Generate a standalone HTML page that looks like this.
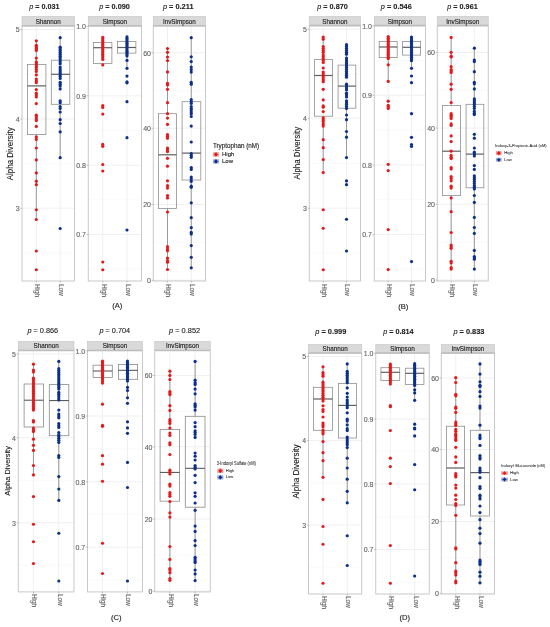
<!DOCTYPE html>
<html><head><meta charset="utf-8"><style>
html,body{margin:0;padding:0;background:#fff;}
svg{display:block;filter:blur(0.3px);font-family:"Liberation Sans",sans-serif;}
text{stroke-width:0.12px;}
</style></head><body>
<svg width="550" height="627" viewBox="0 0 550 627">
<rect width="550" height="627" fill="#fff"/>
<text x="44.3" y="8.9" font-size="8.1" text-anchor="middle" font-weight="bold" fill="#222" stroke="#222" textLength="30.2" lengthAdjust="spacingAndGlyphs"><tspan font-style="italic" font-weight="normal">p</tspan> = 0.031</text>
<text x="114.5" y="8.9" font-size="8.1" text-anchor="middle" font-weight="bold" fill="#222" stroke="#222" textLength="30.5" lengthAdjust="spacingAndGlyphs"><tspan font-style="italic" font-weight="normal">p</tspan> = 0.090</text>
<text x="178.2" y="8.9" font-size="8.1" text-anchor="middle" font-weight="bold" fill="#222" stroke="#222" textLength="30.6" lengthAdjust="spacingAndGlyphs"><tspan font-style="italic" font-weight="normal">p</tspan> = 0.211</text>
<rect x="22" y="26" width="52.50" height="255.00" fill="#fff"/>
<line x1="22" x2="74.5" y1="74.19" y2="74.19" stroke="#f6f6f6" stroke-width="0.6"/>
<line x1="22" x2="74.5" y1="163.56" y2="163.56" stroke="#f6f6f6" stroke-width="0.6"/>
<line x1="22" x2="74.5" y1="252.94" y2="252.94" stroke="#f6f6f6" stroke-width="0.6"/>
<line x1="22" x2="74.5" y1="29.5" y2="29.5" stroke="#eeeeee" stroke-width="0.9"/>
<line x1="22" x2="74.5" y1="119" y2="119" stroke="#eeeeee" stroke-width="0.9"/>
<line x1="22" x2="74.5" y1="208.25" y2="208.25" stroke="#eeeeee" stroke-width="0.9"/>
<line x1="36.32" x2="36.32" y1="26" y2="281" stroke="#eeeeee" stroke-width="0.9"/>
<line x1="60.18" x2="60.18" y1="26" y2="281" stroke="#eeeeee" stroke-width="0.9"/>
<line x1="36.32" x2="36.32" y1="40.8" y2="64.4" stroke="#8f8f8f" stroke-width="0.9"/>
<line x1="36.32" x2="36.32" y1="134.6" y2="219.5" stroke="#8f8f8f" stroke-width="0.9"/>
<rect x="27.4" y="64.4" width="18.50" height="70.20" fill="none" stroke="#8f8f8f" stroke-width="0.8"/>
<line x1="27.4" x2="45.9" y1="85.9" y2="85.9" stroke="#5f5f5f" stroke-width="1.2"/>
<line x1="60.18" x2="60.18" y1="37.7" y2="60.2" stroke="#8f8f8f" stroke-width="0.9"/>
<line x1="60.18" x2="60.18" y1="104.3" y2="157.7" stroke="#8f8f8f" stroke-width="0.9"/>
<rect x="51.3" y="60.2" width="18.50" height="44.10" fill="none" stroke="#8f8f8f" stroke-width="0.8"/>
<line x1="51.3" x2="69.8" y1="74.3" y2="74.3" stroke="#5f5f5f" stroke-width="1.2"/>
<g fill="#e31a1c"><circle cx="36.32" cy="40.8" r="1.6"/><circle cx="36.32" cy="45.3" r="1.6"/><circle cx="36.32" cy="46.6" r="1.6"/><circle cx="36.32" cy="47.9" r="1.6"/><circle cx="36.32" cy="49.1" r="1.6"/><circle cx="36.32" cy="50.4" r="1.6"/><circle cx="36.32" cy="58.1" r="1.6"/><circle cx="36.32" cy="61.9" r="1.6"/><circle cx="36.32" cy="63.8" r="1.6"/><circle cx="36.32" cy="65.7" r="1.6"/><circle cx="36.32" cy="67.6" r="1.6"/><circle cx="36.32" cy="69.6" r="1.6"/><circle cx="36.32" cy="71.5" r="1.6"/><circle cx="36.32" cy="74.9" r="1.6"/><circle cx="36.32" cy="79.1" r="1.6"/><circle cx="36.32" cy="81" r="1.6"/><circle cx="36.32" cy="82.6" r="1.6"/><circle cx="36.32" cy="89.6" r="1.6"/><circle cx="36.32" cy="93.2" r="1.6"/><circle cx="36.32" cy="95.1" r="1.6"/><circle cx="36.32" cy="97" r="1.6"/><circle cx="36.32" cy="103.6" r="1.6"/><circle cx="36.32" cy="115.2" r="1.6"/><circle cx="36.32" cy="117.1" r="1.6"/><circle cx="36.32" cy="119" r="1.6"/><circle cx="36.32" cy="120.6" r="1.6"/><circle cx="36.32" cy="126.4" r="1.6"/><circle cx="36.32" cy="136.9" r="1.6"/><circle cx="36.32" cy="139.4" r="1.6"/><circle cx="36.32" cy="148" r="1.6"/><circle cx="36.32" cy="159.9" r="1.6"/><circle cx="36.32" cy="172.9" r="1.6"/><circle cx="36.32" cy="181.2" r="1.6"/><circle cx="36.32" cy="184.7" r="1.6"/><circle cx="36.32" cy="209.75" r="1.6"/><circle cx="36.32" cy="219.5" r="1.6"/><circle cx="36.32" cy="251" r="1.6"/><circle cx="36.32" cy="269.75" r="1.6"/></g>
<g fill="#0b2f8c"><circle cx="60.18" cy="37.7" r="1.6"/><circle cx="60.18" cy="47.2" r="1.6"/><circle cx="60.18" cy="48.9" r="1.6"/><circle cx="60.18" cy="50.4" r="1.6"/><circle cx="60.18" cy="52.3" r="1.6"/><circle cx="60.18" cy="54.2" r="1.6"/><circle cx="60.18" cy="56.2" r="1.6"/><circle cx="60.18" cy="58.1" r="1.6"/><circle cx="60.18" cy="60" r="1.6"/><circle cx="60.18" cy="61.9" r="1.6"/><circle cx="60.18" cy="63.8" r="1.6"/><circle cx="60.18" cy="67" r="1.6"/><circle cx="60.18" cy="68.9" r="1.6"/><circle cx="60.18" cy="70.8" r="1.6"/><circle cx="60.18" cy="72.7" r="1.6"/><circle cx="60.18" cy="74.7" r="1.6"/><circle cx="60.18" cy="76.6" r="1.6"/><circle cx="60.18" cy="78.5" r="1.6"/><circle cx="60.18" cy="82.3" r="1.6"/><circle cx="60.18" cy="84.2" r="1.6"/><circle cx="60.18" cy="86.1" r="1.6"/><circle cx="60.18" cy="88.9" r="1.6"/><circle cx="60.18" cy="100.8" r="1.6"/><circle cx="60.18" cy="102.7" r="1.6"/><circle cx="60.18" cy="106.6" r="1.6"/><circle cx="60.18" cy="108.5" r="1.6"/><circle cx="60.18" cy="112" r="1.6"/><circle cx="60.18" cy="119.7" r="1.6"/><circle cx="60.18" cy="123.5" r="1.6"/><circle cx="60.18" cy="131.8" r="1.6"/><circle cx="60.18" cy="157.7" r="1.6"/><circle cx="60.18" cy="228.5" r="1.6"/></g>
<rect x="22" y="26" width="52.50" height="255.00" fill="none" stroke="#c4c4c4" stroke-width="0.9"/>
<rect x="22" y="16.5" width="52.50" height="9.50" fill="#d9d9d9" stroke="#c4c4c4" stroke-width="0.6"/>
<line x1="22" x2="74.5" y1="25.70" y2="25.70" stroke="#bdbdbd" stroke-width="1.3"/>
<text x="48.25" y="24.05" font-size="6.3" text-anchor="middle" fill="#1a1a1a" stroke="#1a1a1a">Shannon</text>
<line x1="20.4" x2="22" y1="29.5" y2="29.5" stroke="#999" stroke-width="0.6"/>
<text x="19.7" y="32.40" font-size="7.0" text-anchor="end" fill="#636363" stroke="#636363">5</text>
<line x1="20.4" x2="22" y1="119" y2="119" stroke="#999" stroke-width="0.6"/>
<text x="19.7" y="121.90" font-size="7.0" text-anchor="end" fill="#636363" stroke="#636363">4</text>
<line x1="20.4" x2="22" y1="208.25" y2="208.25" stroke="#999" stroke-width="0.6"/>
<text x="19.7" y="211.15" font-size="7.0" text-anchor="end" fill="#636363" stroke="#636363">3</text>
<line x1="36.32" x2="36.32" y1="281" y2="282.6" stroke="#999" stroke-width="0.6"/>
<text transform="translate(35.22,284.0) rotate(90)" font-size="6.4" fill="#636363" stroke="#636363">High</text>
<line x1="60.18" x2="60.18" y1="281" y2="282.6" stroke="#999" stroke-width="0.6"/>
<text transform="translate(59.08,284.0) rotate(90)" font-size="6.4" fill="#636363" stroke="#636363">Low</text>
<rect x="88.25" y="26" width="53.25" height="255.00" fill="#fff"/>
<line x1="88.25" x2="141.5" y1="61.00" y2="61.00" stroke="#f6f6f6" stroke-width="0.6"/>
<line x1="88.25" x2="141.5" y1="130.40" y2="130.40" stroke="#f6f6f6" stroke-width="0.6"/>
<line x1="88.25" x2="141.5" y1="199.80" y2="199.80" stroke="#f6f6f6" stroke-width="0.6"/>
<line x1="88.25" x2="141.5" y1="269.20" y2="269.20" stroke="#f6f6f6" stroke-width="0.6"/>
<line x1="88.25" x2="141.5" y1="26.3" y2="26.3" stroke="#eeeeee" stroke-width="0.9"/>
<line x1="88.25" x2="141.5" y1="95.75" y2="95.75" stroke="#eeeeee" stroke-width="0.9"/>
<line x1="88.25" x2="141.5" y1="165.25" y2="165.25" stroke="#eeeeee" stroke-width="0.9"/>
<line x1="88.25" x2="141.5" y1="234.5" y2="234.5" stroke="#eeeeee" stroke-width="0.9"/>
<line x1="102.77" x2="102.77" y1="26" y2="281" stroke="#eeeeee" stroke-width="0.9"/>
<line x1="126.98" x2="126.98" y1="26" y2="281" stroke="#eeeeee" stroke-width="0.9"/>
<line x1="102.77" x2="102.77" y1="37.4" y2="42.5" stroke="#8f8f8f" stroke-width="0.9"/>
<line x1="102.77" x2="102.77" y1="63.4" y2="64.9" stroke="#8f8f8f" stroke-width="0.9"/>
<rect x="93.4" y="42.5" width="18.50" height="20.90" fill="none" stroke="#8f8f8f" stroke-width="0.8"/>
<line x1="93.4" x2="111.9" y1="47.7" y2="47.7" stroke="#5f5f5f" stroke-width="1.2"/>
<line x1="126.98" x2="126.98" y1="36.9" y2="41.5" stroke="#8f8f8f" stroke-width="0.9"/>
<line x1="126.98" x2="126.98" y1="53.1" y2="68.3" stroke="#8f8f8f" stroke-width="0.9"/>
<rect x="117.5" y="41.5" width="18.40" height="11.60" fill="none" stroke="#8f8f8f" stroke-width="0.8"/>
<line x1="117.5" x2="135.9" y1="47.5" y2="47.5" stroke="#5f5f5f" stroke-width="1.2"/>
<g fill="#e31a1c"><circle cx="102.77" cy="37.4" r="1.6"/><circle cx="102.77" cy="39.1" r="1.6"/><circle cx="102.77" cy="40.8" r="1.6"/><circle cx="102.77" cy="42.5" r="1.6"/><circle cx="102.77" cy="44.2" r="1.6"/><circle cx="102.77" cy="45.9" r="1.6"/><circle cx="102.77" cy="47.6" r="1.6"/><circle cx="102.77" cy="49.3" r="1.6"/><circle cx="102.77" cy="51.0" r="1.6"/><circle cx="102.77" cy="52.7" r="1.6"/><circle cx="102.77" cy="54.4" r="1.6"/><circle cx="102.77" cy="56.1" r="1.6"/><circle cx="102.77" cy="57.8" r="1.6"/><circle cx="102.77" cy="59.5" r="1.6"/><circle cx="102.77" cy="64.9" r="1.6"/><circle cx="102.77" cy="105.5" r="1.6"/><circle cx="102.77" cy="107.4" r="1.6"/><circle cx="102.77" cy="114.1" r="1.6"/><circle cx="102.77" cy="144.4" r="1.6"/><circle cx="102.77" cy="146.3" r="1.6"/><circle cx="102.77" cy="164.5" r="1.6"/><circle cx="102.77" cy="171" r="1.6"/><circle cx="102.77" cy="262" r="1.6"/><circle cx="102.77" cy="269.75" r="1.6"/></g>
<g fill="#0b2f8c"><circle cx="126.98" cy="36.9" r="1.6"/><circle cx="126.98" cy="38.49" r="1.6"/><circle cx="126.98" cy="40.08" r="1.6"/><circle cx="126.98" cy="41.67" r="1.6"/><circle cx="126.98" cy="43.27" r="1.6"/><circle cx="126.98" cy="44.86" r="1.6"/><circle cx="126.98" cy="46.45" r="1.6"/><circle cx="126.98" cy="48.04" r="1.6"/><circle cx="126.98" cy="49.63" r="1.6"/><circle cx="126.98" cy="51.23" r="1.6"/><circle cx="126.98" cy="52.82" r="1.6"/><circle cx="126.98" cy="54.41" r="1.6"/><circle cx="126.98" cy="56.0" r="1.6"/><circle cx="126.98" cy="60.4" r="1.6"/><circle cx="126.98" cy="68.3" r="1.6"/><circle cx="126.98" cy="76.1" r="1.6"/><circle cx="126.98" cy="81.9" r="1.6"/><circle cx="126.98" cy="82.8" r="1.6"/><circle cx="126.98" cy="101.7" r="1.6"/><circle cx="126.98" cy="137.7" r="1.6"/><circle cx="126.98" cy="230" r="1.6"/></g>
<rect x="88.25" y="26" width="53.25" height="255.00" fill="none" stroke="#c4c4c4" stroke-width="0.9"/>
<rect x="88.25" y="16.5" width="53.25" height="9.50" fill="#d9d9d9" stroke="#c4c4c4" stroke-width="0.6"/>
<line x1="88.25" x2="141.5" y1="25.70" y2="25.70" stroke="#bdbdbd" stroke-width="1.3"/>
<text x="114.88" y="24.05" font-size="6.3" text-anchor="middle" fill="#1a1a1a" stroke="#1a1a1a">Simpson</text>
<line x1="86.65" x2="88.25" y1="26.3" y2="26.3" stroke="#999" stroke-width="0.6"/>
<text x="85.95" y="29.20" font-size="7.0" text-anchor="end" fill="#636363" stroke="#636363">1.0</text>
<line x1="86.65" x2="88.25" y1="95.75" y2="95.75" stroke="#999" stroke-width="0.6"/>
<text x="85.95" y="98.65" font-size="7.0" text-anchor="end" fill="#636363" stroke="#636363">0.9</text>
<line x1="86.65" x2="88.25" y1="165.25" y2="165.25" stroke="#999" stroke-width="0.6"/>
<text x="85.95" y="168.15" font-size="7.0" text-anchor="end" fill="#636363" stroke="#636363">0.8</text>
<line x1="86.65" x2="88.25" y1="234.5" y2="234.5" stroke="#999" stroke-width="0.6"/>
<text x="85.95" y="237.40" font-size="7.0" text-anchor="end" fill="#636363" stroke="#636363">0.7</text>
<line x1="102.77" x2="102.77" y1="281" y2="282.6" stroke="#999" stroke-width="0.6"/>
<text transform="translate(101.67,284.0) rotate(90)" font-size="6.4" fill="#636363" stroke="#636363">High</text>
<line x1="126.98" x2="126.98" y1="281" y2="282.6" stroke="#999" stroke-width="0.6"/>
<text transform="translate(125.88,284.0) rotate(90)" font-size="6.4" fill="#636363" stroke="#636363">Low</text>
<rect x="153.25" y="26" width="52.25" height="255.00" fill="#fff"/>
<line x1="153.25" x2="205.5" y1="90.67" y2="90.67" stroke="#f6f6f6" stroke-width="0.6"/>
<line x1="153.25" x2="205.5" y1="166.50" y2="166.50" stroke="#f6f6f6" stroke-width="0.6"/>
<line x1="153.25" x2="205.5" y1="242.33" y2="242.33" stroke="#f6f6f6" stroke-width="0.6"/>
<line x1="153.25" x2="205.5" y1="52.75" y2="52.75" stroke="#eeeeee" stroke-width="0.9"/>
<line x1="153.25" x2="205.5" y1="128.25" y2="128.25" stroke="#eeeeee" stroke-width="0.9"/>
<line x1="153.25" x2="205.5" y1="204.5" y2="204.5" stroke="#eeeeee" stroke-width="0.9"/>
<line x1="153.25" x2="205.5" y1="280.25" y2="280.25" stroke="#eeeeee" stroke-width="0.9"/>
<line x1="167.50" x2="167.50" y1="26" y2="281" stroke="#eeeeee" stroke-width="0.9"/>
<line x1="191.25" x2="191.25" y1="26" y2="281" stroke="#eeeeee" stroke-width="0.9"/>
<line x1="167.50" x2="167.50" y1="48.5" y2="113.7" stroke="#8f8f8f" stroke-width="0.9"/>
<line x1="167.50" x2="167.50" y1="208.5" y2="269.5" stroke="#8f8f8f" stroke-width="0.9"/>
<rect x="158.4" y="113.7" width="18.20" height="94.80" fill="none" stroke="#8f8f8f" stroke-width="0.8"/>
<line x1="158.4" x2="176.6" y1="154.8" y2="154.8" stroke="#5f5f5f" stroke-width="1.2"/>
<line x1="191.25" x2="191.25" y1="37.7" y2="101.7" stroke="#8f8f8f" stroke-width="0.9"/>
<line x1="191.25" x2="191.25" y1="180" y2="267.8" stroke="#8f8f8f" stroke-width="0.9"/>
<rect x="182.1" y="101.7" width="18.70" height="78.30" fill="none" stroke="#8f8f8f" stroke-width="0.8"/>
<line x1="182.1" x2="200.8" y1="153.1" y2="153.1" stroke="#5f5f5f" stroke-width="1.2"/>
<g fill="#e31a1c"><circle cx="167.50" cy="48.5" r="1.6"/><circle cx="167.50" cy="52.3" r="1.6"/><circle cx="167.50" cy="57" r="1.6"/><circle cx="167.50" cy="60.6" r="1.6"/><circle cx="167.50" cy="71.9" r="1.6"/><circle cx="167.50" cy="83.3" r="1.6"/><circle cx="167.50" cy="84.9" r="1.6"/><circle cx="167.50" cy="89.3" r="1.6"/><circle cx="167.50" cy="102.7" r="1.6"/><circle cx="167.50" cy="113.7" r="1.6"/><circle cx="167.50" cy="118.1" r="1.6"/><circle cx="167.50" cy="124.4" r="1.6"/><circle cx="167.50" cy="134.6" r="1.6"/><circle cx="167.50" cy="136.3" r="1.6"/><circle cx="167.50" cy="138.2" r="1.6"/><circle cx="167.50" cy="148.1" r="1.6"/><circle cx="167.50" cy="149.9" r="1.6"/><circle cx="167.50" cy="151.6" r="1.6"/><circle cx="167.50" cy="158.3" r="1.6"/><circle cx="167.50" cy="166.2" r="1.6"/><circle cx="167.50" cy="180.8" r="1.6"/><circle cx="167.50" cy="185.7" r="1.6"/><circle cx="167.50" cy="188.1" r="1.6"/><circle cx="167.50" cy="195.5" r="1.6"/><circle cx="167.50" cy="197.9" r="1.6"/><circle cx="167.50" cy="212" r="1.6"/><circle cx="167.50" cy="246.7" r="1.6"/><circle cx="167.50" cy="249.1" r="1.6"/><circle cx="167.50" cy="250.8" r="1.6"/><circle cx="167.50" cy="258.1" r="1.6"/><circle cx="167.50" cy="260.5" r="1.6"/><circle cx="167.50" cy="262.2" r="1.6"/><circle cx="167.50" cy="269.5" r="1.6"/></g>
<g fill="#0b2f8c"><circle cx="191.25" cy="37.7" r="1.6"/><circle cx="191.25" cy="56.8" r="1.6"/><circle cx="191.25" cy="61.6" r="1.6"/><circle cx="191.25" cy="67" r="1.6"/><circle cx="191.25" cy="69.6" r="1.6"/><circle cx="191.25" cy="72.1" r="1.6"/><circle cx="191.25" cy="82.3" r="1.6"/><circle cx="191.25" cy="84.2" r="1.6"/><circle cx="191.25" cy="99.5" r="1.6"/><circle cx="191.25" cy="101.5" r="1.6"/><circle cx="191.25" cy="103.4" r="1.6"/><circle cx="191.25" cy="106.6" r="1.6"/><circle cx="191.25" cy="108.5" r="1.6"/><circle cx="191.25" cy="110.1" r="1.6"/><circle cx="191.25" cy="112" r="1.6"/><circle cx="191.25" cy="113.9" r="1.6"/><circle cx="191.25" cy="116.5" r="1.6"/><circle cx="191.25" cy="126.1" r="1.6"/><circle cx="191.25" cy="142" r="1.6"/><circle cx="191.25" cy="153.5" r="1.6"/><circle cx="191.25" cy="155.4" r="1.6"/><circle cx="191.25" cy="157.3" r="1.6"/><circle cx="191.25" cy="167.5" r="1.6"/><circle cx="191.25" cy="169.4" r="1.6"/><circle cx="191.25" cy="177.1" r="1.6"/><circle cx="191.25" cy="179" r="1.6"/><circle cx="191.25" cy="181.3" r="1.6"/><circle cx="191.25" cy="186.2" r="1.6"/><circle cx="191.25" cy="187.3" r="1.6"/><circle cx="191.25" cy="202.8" r="1.6"/><circle cx="191.25" cy="217.7" r="1.6"/><circle cx="191.25" cy="227.7" r="1.6"/><circle cx="191.25" cy="232.4" r="1.6"/><circle cx="191.25" cy="234" r="1.6"/><circle cx="191.25" cy="245.6" r="1.6"/><circle cx="191.25" cy="257.3" r="1.6"/><circle cx="191.25" cy="267.8" r="1.6"/></g>
<rect x="153.25" y="26" width="52.25" height="255.00" fill="none" stroke="#c4c4c4" stroke-width="0.9"/>
<rect x="153.25" y="16.5" width="52.25" height="9.50" fill="#d9d9d9" stroke="#c4c4c4" stroke-width="0.6"/>
<line x1="153.25" x2="205.5" y1="25.70" y2="25.70" stroke="#bdbdbd" stroke-width="1.3"/>
<text x="179.38" y="24.05" font-size="6.3" text-anchor="middle" fill="#1a1a1a" stroke="#1a1a1a">InvSimpson</text>
<line x1="151.65" x2="153.25" y1="52.75" y2="52.75" stroke="#999" stroke-width="0.6"/>
<text x="150.95" y="55.65" font-size="7.0" text-anchor="end" fill="#636363" stroke="#636363">60</text>
<line x1="151.65" x2="153.25" y1="128.25" y2="128.25" stroke="#999" stroke-width="0.6"/>
<text x="150.95" y="131.15" font-size="7.0" text-anchor="end" fill="#636363" stroke="#636363">40</text>
<line x1="151.65" x2="153.25" y1="204.5" y2="204.5" stroke="#999" stroke-width="0.6"/>
<text x="150.95" y="207.40" font-size="7.0" text-anchor="end" fill="#636363" stroke="#636363">20</text>
<line x1="151.65" x2="153.25" y1="280.25" y2="280.25" stroke="#999" stroke-width="0.6"/>
<text x="150.95" y="283.15" font-size="7.0" text-anchor="end" fill="#636363" stroke="#636363">0</text>
<line x1="167.50" x2="167.50" y1="281" y2="282.6" stroke="#999" stroke-width="0.6"/>
<text transform="translate(166.40,284.0) rotate(90)" font-size="6.4" fill="#636363" stroke="#636363">High</text>
<line x1="191.25" x2="191.25" y1="281" y2="282.6" stroke="#999" stroke-width="0.6"/>
<text transform="translate(190.15,284.0) rotate(90)" font-size="6.4" fill="#636363" stroke="#636363">Low</text>
<text transform="translate(13.0,153.75) rotate(-90)" font-size="8.4" text-anchor="middle" fill="#1a1a1a" stroke="#1a1a1a" textLength="53" lengthAdjust="spacingAndGlyphs">Alpha Diversity</text>
<text x="212.9" y="147.77" font-size="6.3" fill="#1a1a1a" stroke="#1a1a1a" style="stroke-width:0.12px" textLength="46.2" lengthAdjust="spacingAndGlyphs">Tryptophan (nM)</text>
<rect x="212.90" y="152.2" width="6.1" height="4.40" fill="#f3a3a5"/>
<line x1="215.95" x2="215.95" y1="152.2" y2="156.6" stroke="#e31a1c" stroke-width="0.8"/>
<line x1="213.50" x2="218.40" y1="154.40" y2="154.40" stroke="#e31a1c" stroke-width="0.7" opacity="0.6"/>
<circle cx="215.95" cy="154.40" r="1.58" fill="#e31a1c"/>
<text x="222.0" y="156.06" font-size="6.0" fill="#1a1a1a" stroke="#1a1a1a" style="stroke-width:0.12px">High</text>
<rect x="212.90" y="159.2" width="6.1" height="4.40" fill="#a8b4d8"/>
<line x1="215.95" x2="215.95" y1="159.2" y2="163.6" stroke="#0b2f8c" stroke-width="0.8"/>
<line x1="213.50" x2="218.40" y1="161.40" y2="161.40" stroke="#0b2f8c" stroke-width="0.7" opacity="0.6"/>
<circle cx="215.95" cy="161.40" r="1.58" fill="#0b2f8c"/>
<text x="222.0" y="163.06" font-size="6.0" fill="#1a1a1a" stroke="#1a1a1a" style="stroke-width:0.12px">Low</text>
<text x="117.2" y="307.8" font-size="7.6" font-weight="normal" text-anchor="middle" fill="#222" stroke="#222">(A)</text>
<text x="332.5" y="8.7" font-size="8.1" text-anchor="middle" font-weight="bold" fill="#222" stroke="#222" textLength="30.5" lengthAdjust="spacingAndGlyphs"><tspan font-style="italic" font-weight="normal">p</tspan> = 0.870</text>
<text x="396.3" y="8.7" font-size="8.1" text-anchor="middle" font-weight="bold" fill="#222" stroke="#222" textLength="31.1" lengthAdjust="spacingAndGlyphs"><tspan font-style="italic" font-weight="normal">p</tspan> = 0.546</text>
<text x="462.5" y="8.7" font-size="8.1" text-anchor="middle" font-weight="bold" fill="#222" stroke="#222" textLength="30.4" lengthAdjust="spacingAndGlyphs"><tspan font-style="italic" font-weight="normal">p</tspan> = 0.961</text>
<rect x="309.25" y="25.8" width="51.25" height="255.20" fill="#fff"/>
<line x1="309.25" x2="360.5" y1="74.00" y2="74.00" stroke="#f6f6f6" stroke-width="0.6"/>
<line x1="309.25" x2="360.5" y1="163.50" y2="163.50" stroke="#f6f6f6" stroke-width="0.6"/>
<line x1="309.25" x2="360.5" y1="253.00" y2="253.00" stroke="#f6f6f6" stroke-width="0.6"/>
<line x1="309.25" x2="360.5" y1="29.25" y2="29.25" stroke="#eeeeee" stroke-width="0.9"/>
<line x1="309.25" x2="360.5" y1="118.25" y2="118.25" stroke="#eeeeee" stroke-width="0.9"/>
<line x1="309.25" x2="360.5" y1="208.25" y2="208.25" stroke="#eeeeee" stroke-width="0.9"/>
<line x1="323.23" x2="323.23" y1="25.8" y2="281" stroke="#eeeeee" stroke-width="0.9"/>
<line x1="346.52" x2="346.52" y1="25.8" y2="281" stroke="#eeeeee" stroke-width="0.9"/>
<line x1="323.23" x2="323.23" y1="37" y2="59.6" stroke="#8f8f8f" stroke-width="0.9"/>
<line x1="323.23" x2="323.23" y1="116.2" y2="172.6" stroke="#8f8f8f" stroke-width="0.9"/>
<rect x="314.4" y="59.6" width="18.20" height="56.60" fill="none" stroke="#8f8f8f" stroke-width="0.8"/>
<line x1="314.4" x2="332.6" y1="75.5" y2="75.5" stroke="#5f5f5f" stroke-width="1.2"/>
<line x1="346.52" x2="346.52" y1="44.7" y2="65.1" stroke="#8f8f8f" stroke-width="0.9"/>
<line x1="346.52" x2="346.52" y1="108.2" y2="157.6" stroke="#8f8f8f" stroke-width="0.9"/>
<rect x="338.1" y="65.1" width="17.70" height="43.10" fill="none" stroke="#8f8f8f" stroke-width="0.8"/>
<line x1="338.1" x2="355.8" y1="86.1" y2="86.1" stroke="#5f5f5f" stroke-width="1.2"/>
<g fill="#e31a1c"><circle cx="323.23" cy="37" r="1.6"/><circle cx="323.23" cy="39.2" r="1.6"/><circle cx="323.23" cy="46.6" r="1.6"/><circle cx="323.23" cy="48.5" r="1.6"/><circle cx="323.23" cy="50.4" r="1.6"/><circle cx="323.23" cy="52.3" r="1.6"/><circle cx="323.23" cy="54.9" r="1.6"/><circle cx="323.23" cy="56.8" r="1.6"/><circle cx="323.23" cy="58.7" r="1.6"/><circle cx="323.23" cy="60.6" r="1.6"/><circle cx="323.23" cy="62.5" r="1.6"/><circle cx="323.23" cy="68" r="1.6"/><circle cx="323.23" cy="72.1" r="1.6"/><circle cx="323.23" cy="74" r="1.6"/><circle cx="323.23" cy="75.9" r="1.6"/><circle cx="323.23" cy="77.8" r="1.6"/><circle cx="323.23" cy="79.8" r="1.6"/><circle cx="323.23" cy="81.7" r="1.6"/><circle cx="323.23" cy="89.3" r="1.6"/><circle cx="323.23" cy="99.9" r="1.6"/><circle cx="323.23" cy="105.9" r="1.6"/><circle cx="323.23" cy="107.2" r="1.6"/><circle cx="323.23" cy="111.6" r="1.6"/><circle cx="323.23" cy="117.8" r="1.6"/><circle cx="323.23" cy="119.7" r="1.6"/><circle cx="323.23" cy="121.6" r="1.6"/><circle cx="323.23" cy="123.9" r="1.6"/><circle cx="323.23" cy="126.1" r="1.6"/><circle cx="323.23" cy="139.7" r="1.6"/><circle cx="323.23" cy="147.7" r="1.6"/><circle cx="323.23" cy="159.6" r="1.6"/><circle cx="323.23" cy="172.6" r="1.6"/><circle cx="323.23" cy="209.75" r="1.6"/><circle cx="323.23" cy="228.25" r="1.6"/><circle cx="323.23" cy="269.75" r="1.6"/></g>
<g fill="#0b2f8c"><circle cx="346.52" cy="44.7" r="1.6"/><circle cx="346.52" cy="46.6" r="1.6"/><circle cx="346.52" cy="48.5" r="1.6"/><circle cx="346.52" cy="50.4" r="1.6"/><circle cx="346.52" cy="52.3" r="1.6"/><circle cx="346.52" cy="54.2" r="1.6"/><circle cx="346.52" cy="58.1" r="1.6"/><circle cx="346.52" cy="60" r="1.6"/><circle cx="346.52" cy="61.9" r="1.6"/><circle cx="346.52" cy="63.8" r="1.6"/><circle cx="346.52" cy="65.7" r="1.6"/><circle cx="346.52" cy="67.6" r="1.6"/><circle cx="346.52" cy="69.6" r="1.6"/><circle cx="346.52" cy="71.5" r="1.6"/><circle cx="346.52" cy="73.4" r="1.6"/><circle cx="346.52" cy="75.3" r="1.6"/><circle cx="346.52" cy="77.2" r="1.6"/><circle cx="346.52" cy="84.2" r="1.6"/><circle cx="346.52" cy="86.1" r="1.6"/><circle cx="346.52" cy="88.1" r="1.6"/><circle cx="346.52" cy="90" r="1.6"/><circle cx="346.52" cy="93.2" r="1.6"/><circle cx="346.52" cy="95.1" r="1.6"/><circle cx="346.52" cy="97" r="1.6"/><circle cx="346.52" cy="100.8" r="1.6"/><circle cx="346.52" cy="102.7" r="1.6"/><circle cx="346.52" cy="104.6" r="1.6"/><circle cx="346.52" cy="106.6" r="1.6"/><circle cx="346.52" cy="108.5" r="1.6"/><circle cx="346.52" cy="115" r="1.6"/><circle cx="346.52" cy="119.7" r="1.6"/><circle cx="346.52" cy="131.5" r="1.6"/><circle cx="346.52" cy="137.2" r="1.6"/><circle cx="346.52" cy="157.6" r="1.6"/><circle cx="346.52" cy="180.9" r="1.6"/><circle cx="346.52" cy="184.7" r="1.6"/><circle cx="346.52" cy="219.25" r="1.6"/><circle cx="346.52" cy="251" r="1.6"/></g>
<rect x="309.25" y="25.8" width="51.25" height="255.20" fill="none" stroke="#c4c4c4" stroke-width="0.9"/>
<rect x="309.25" y="16.5" width="51.25" height="9.30" fill="#d9d9d9" stroke="#c4c4c4" stroke-width="0.6"/>
<line x1="309.25" x2="360.5" y1="25.50" y2="25.50" stroke="#bdbdbd" stroke-width="1.3"/>
<text x="334.88" y="23.95" font-size="6.3" text-anchor="middle" fill="#1a1a1a" stroke="#1a1a1a">Shannon</text>
<line x1="307.65" x2="309.25" y1="29.25" y2="29.25" stroke="#999" stroke-width="0.6"/>
<text x="306.95" y="32.15" font-size="7.0" text-anchor="end" fill="#636363" stroke="#636363">5</text>
<line x1="307.65" x2="309.25" y1="118.25" y2="118.25" stroke="#999" stroke-width="0.6"/>
<text x="306.95" y="121.15" font-size="7.0" text-anchor="end" fill="#636363" stroke="#636363">4</text>
<line x1="307.65" x2="309.25" y1="208.25" y2="208.25" stroke="#999" stroke-width="0.6"/>
<text x="306.95" y="211.15" font-size="7.0" text-anchor="end" fill="#636363" stroke="#636363">3</text>
<line x1="323.23" x2="323.23" y1="281" y2="282.6" stroke="#999" stroke-width="0.6"/>
<text transform="translate(322.13,284.0) rotate(90)" font-size="6.4" fill="#636363" stroke="#636363">High</text>
<line x1="346.52" x2="346.52" y1="281" y2="282.6" stroke="#999" stroke-width="0.6"/>
<text transform="translate(345.42,284.0) rotate(90)" font-size="6.4" fill="#636363" stroke="#636363">Low</text>
<rect x="374.25" y="25.8" width="51.25" height="255.20" fill="#fff"/>
<line x1="374.25" x2="425.5" y1="60.54" y2="60.54" stroke="#f6f6f6" stroke-width="0.6"/>
<line x1="374.25" x2="425.5" y1="130.12" y2="130.12" stroke="#f6f6f6" stroke-width="0.6"/>
<line x1="374.25" x2="425.5" y1="199.71" y2="199.71" stroke="#f6f6f6" stroke-width="0.6"/>
<line x1="374.25" x2="425.5" y1="269.29" y2="269.29" stroke="#f6f6f6" stroke-width="0.6"/>
<line x1="374.25" x2="425.5" y1="25.75" y2="25.75" stroke="#eeeeee" stroke-width="0.9"/>
<line x1="374.25" x2="425.5" y1="95.25" y2="95.25" stroke="#eeeeee" stroke-width="0.9"/>
<line x1="374.25" x2="425.5" y1="165" y2="165" stroke="#eeeeee" stroke-width="0.9"/>
<line x1="374.25" x2="425.5" y1="234.5" y2="234.5" stroke="#eeeeee" stroke-width="0.9"/>
<line x1="388.23" x2="388.23" y1="25.8" y2="281" stroke="#eeeeee" stroke-width="0.9"/>
<line x1="411.52" x2="411.52" y1="25.8" y2="281" stroke="#eeeeee" stroke-width="0.9"/>
<line x1="388.23" x2="388.23" y1="36.6" y2="41.5" stroke="#8f8f8f" stroke-width="0.9"/>
<line x1="388.23" x2="388.23" y1="57.6" y2="81.4" stroke="#8f8f8f" stroke-width="0.9"/>
<rect x="379.2" y="41.5" width="18.00" height="16.10" fill="none" stroke="#8f8f8f" stroke-width="0.8"/>
<line x1="379.2" x2="397.2" y1="47" y2="47" stroke="#5f5f5f" stroke-width="1.2"/>
<line x1="411.52" x2="411.52" y1="37.1" y2="41.5" stroke="#8f8f8f" stroke-width="0.9"/>
<line x1="411.52" x2="411.52" y1="55.1" y2="68.3" stroke="#8f8f8f" stroke-width="0.9"/>
<rect x="402.6" y="41.5" width="18.00" height="13.60" fill="none" stroke="#8f8f8f" stroke-width="0.8"/>
<line x1="402.6" x2="420.6" y1="47.3" y2="47.3" stroke="#5f5f5f" stroke-width="1.2"/>
<g fill="#e31a1c"><circle cx="388.23" cy="36.6" r="1.6"/><circle cx="388.23" cy="38.2" r="1.6"/><circle cx="388.23" cy="39.8" r="1.6"/><circle cx="388.23" cy="41.4" r="1.6"/><circle cx="388.23" cy="43.0" r="1.6"/><circle cx="388.23" cy="44.6" r="1.6"/><circle cx="388.23" cy="46.2" r="1.6"/><circle cx="388.23" cy="47.8" r="1.6"/><circle cx="388.23" cy="49.4" r="1.6"/><circle cx="388.23" cy="51.0" r="1.6"/><circle cx="388.23" cy="52.6" r="1.6"/><circle cx="388.23" cy="54.2" r="1.6"/><circle cx="388.23" cy="55.8" r="1.6"/><circle cx="388.23" cy="57.4" r="1.6"/><circle cx="388.23" cy="58.4" r="1.6"/><circle cx="388.23" cy="64.8" r="1.6"/><circle cx="388.23" cy="81.4" r="1.6"/><circle cx="388.23" cy="101.2" r="1.6"/><circle cx="388.23" cy="105.4" r="1.6"/><circle cx="388.23" cy="106.9" r="1.6"/><circle cx="388.23" cy="108.4" r="1.6"/><circle cx="388.23" cy="164.3" r="1.6"/><circle cx="388.23" cy="170.6" r="1.6"/><circle cx="388.23" cy="229.6" r="1.6"/><circle cx="388.23" cy="269.6" r="1.6"/></g>
<g fill="#0b2f8c"><circle cx="411.52" cy="37.1" r="1.6"/><circle cx="411.52" cy="38.79" r="1.6"/><circle cx="411.52" cy="40.47" r="1.6"/><circle cx="411.52" cy="42.16" r="1.6"/><circle cx="411.52" cy="43.84" r="1.6"/><circle cx="411.52" cy="45.53" r="1.6"/><circle cx="411.52" cy="47.21" r="1.6"/><circle cx="411.52" cy="48.9" r="1.6"/><circle cx="411.52" cy="50.59" r="1.6"/><circle cx="411.52" cy="52.27" r="1.6"/><circle cx="411.52" cy="53.96" r="1.6"/><circle cx="411.52" cy="55.64" r="1.6"/><circle cx="411.52" cy="57.33" r="1.6"/><circle cx="411.52" cy="59.01" r="1.6"/><circle cx="411.52" cy="60.7" r="1.6"/><circle cx="411.52" cy="68.3" r="1.6"/><circle cx="411.52" cy="76" r="1.6"/><circle cx="411.52" cy="82.7" r="1.6"/><circle cx="411.52" cy="113.7" r="1.6"/><circle cx="411.52" cy="137.3" r="1.6"/><circle cx="411.52" cy="144.5" r="1.6"/><circle cx="411.52" cy="146.5" r="1.6"/><circle cx="411.52" cy="261.6" r="1.6"/></g>
<rect x="374.25" y="25.8" width="51.25" height="255.20" fill="none" stroke="#c4c4c4" stroke-width="0.9"/>
<rect x="374.25" y="16.5" width="51.25" height="9.30" fill="#d9d9d9" stroke="#c4c4c4" stroke-width="0.6"/>
<line x1="374.25" x2="425.5" y1="25.50" y2="25.50" stroke="#bdbdbd" stroke-width="1.3"/>
<text x="399.88" y="23.95" font-size="6.3" text-anchor="middle" fill="#1a1a1a" stroke="#1a1a1a">Simpson</text>
<line x1="372.65" x2="374.25" y1="25.75" y2="25.75" stroke="#999" stroke-width="0.6"/>
<text x="371.95" y="28.65" font-size="7.0" text-anchor="end" fill="#636363" stroke="#636363">1.0</text>
<line x1="372.65" x2="374.25" y1="95.25" y2="95.25" stroke="#999" stroke-width="0.6"/>
<text x="371.95" y="98.15" font-size="7.0" text-anchor="end" fill="#636363" stroke="#636363">0.9</text>
<line x1="372.65" x2="374.25" y1="165" y2="165" stroke="#999" stroke-width="0.6"/>
<text x="371.95" y="167.90" font-size="7.0" text-anchor="end" fill="#636363" stroke="#636363">0.8</text>
<line x1="372.65" x2="374.25" y1="234.5" y2="234.5" stroke="#999" stroke-width="0.6"/>
<text x="371.95" y="237.40" font-size="7.0" text-anchor="end" fill="#636363" stroke="#636363">0.7</text>
<line x1="388.23" x2="388.23" y1="281" y2="282.6" stroke="#999" stroke-width="0.6"/>
<text transform="translate(387.13,284.0) rotate(90)" font-size="6.4" fill="#636363" stroke="#636363">High</text>
<line x1="411.52" x2="411.52" y1="281" y2="282.6" stroke="#999" stroke-width="0.6"/>
<text transform="translate(410.42,284.0) rotate(90)" font-size="6.4" fill="#636363" stroke="#636363">Low</text>
<rect x="437.25" y="25.8" width="51.00" height="255.20" fill="#fff"/>
<line x1="437.25" x2="488.25" y1="90.42" y2="90.42" stroke="#f6f6f6" stroke-width="0.6"/>
<line x1="437.25" x2="488.25" y1="166.25" y2="166.25" stroke="#f6f6f6" stroke-width="0.6"/>
<line x1="437.25" x2="488.25" y1="242.08" y2="242.08" stroke="#f6f6f6" stroke-width="0.6"/>
<line x1="437.25" x2="488.25" y1="52.5" y2="52.5" stroke="#eeeeee" stroke-width="0.9"/>
<line x1="437.25" x2="488.25" y1="128" y2="128" stroke="#eeeeee" stroke-width="0.9"/>
<line x1="437.25" x2="488.25" y1="204.25" y2="204.25" stroke="#eeeeee" stroke-width="0.9"/>
<line x1="437.25" x2="488.25" y1="280" y2="280" stroke="#eeeeee" stroke-width="0.9"/>
<line x1="451.16" x2="451.16" y1="25.8" y2="281" stroke="#eeeeee" stroke-width="0.9"/>
<line x1="474.34" x2="474.34" y1="25.8" y2="281" stroke="#eeeeee" stroke-width="0.9"/>
<line x1="451.16" x2="451.16" y1="37.4" y2="105.5" stroke="#8f8f8f" stroke-width="0.9"/>
<line x1="451.16" x2="451.16" y1="195.5" y2="269.1" stroke="#8f8f8f" stroke-width="0.9"/>
<rect x="442.4" y="105.5" width="18.20" height="90.00" fill="none" stroke="#8f8f8f" stroke-width="0.8"/>
<line x1="442.4" x2="460.6" y1="151.2" y2="151.2" stroke="#5f5f5f" stroke-width="1.2"/>
<line x1="474.34" x2="474.34" y1="48.2" y2="104.3" stroke="#8f8f8f" stroke-width="0.9"/>
<line x1="474.34" x2="474.34" y1="187.8" y2="269.1" stroke="#8f8f8f" stroke-width="0.9"/>
<rect x="466.1" y="104.3" width="17.70" height="83.50" fill="none" stroke="#8f8f8f" stroke-width="0.8"/>
<line x1="466.1" x2="483.8" y1="154.1" y2="154.1" stroke="#5f5f5f" stroke-width="1.2"/>
<g fill="#e31a1c"><circle cx="451.16" cy="37.4" r="1.6"/><circle cx="451.16" cy="52.3" r="1.6"/><circle cx="451.16" cy="56.2" r="1.6"/><circle cx="451.16" cy="57" r="1.6"/><circle cx="451.16" cy="66.7" r="1.6"/><circle cx="451.16" cy="69.6" r="1.6"/><circle cx="451.16" cy="71.1" r="1.6"/><circle cx="451.16" cy="72.4" r="1.6"/><circle cx="451.16" cy="84.2" r="1.6"/><circle cx="451.16" cy="89.3" r="1.6"/><circle cx="451.16" cy="102.5" r="1.6"/><circle cx="451.16" cy="113.7" r="1.6"/><circle cx="451.16" cy="115.2" r="1.6"/><circle cx="451.16" cy="116.7" r="1.6"/><circle cx="451.16" cy="118.4" r="1.6"/><circle cx="451.16" cy="123.9" r="1.6"/><circle cx="451.16" cy="125.4" r="1.6"/><circle cx="451.16" cy="135.9" r="1.6"/><circle cx="451.16" cy="141.6" r="1.6"/><circle cx="451.16" cy="151.2" r="1.6"/><circle cx="451.16" cy="155.4" r="1.6"/><circle cx="451.16" cy="157.3" r="1.6"/><circle cx="451.16" cy="158.6" r="1.6"/><circle cx="451.16" cy="167.5" r="1.6"/><circle cx="451.16" cy="169" r="1.6"/><circle cx="451.16" cy="176.5" r="1.6"/><circle cx="451.16" cy="178.4" r="1.6"/><circle cx="451.16" cy="180.8" r="1.6"/><circle cx="451.16" cy="186.2" r="1.6"/><circle cx="451.16" cy="188.1" r="1.6"/><circle cx="451.16" cy="197.9" r="1.6"/><circle cx="451.16" cy="211.7" r="1.6"/><circle cx="451.16" cy="232.5" r="1.6"/><circle cx="451.16" cy="245.1" r="1.6"/><circle cx="451.16" cy="246.7" r="1.6"/><circle cx="451.16" cy="248.3" r="1.6"/><circle cx="451.16" cy="261.3" r="1.6"/><circle cx="451.16" cy="263" r="1.6"/><circle cx="451.16" cy="267.5" r="1.6"/><circle cx="451.16" cy="269.1" r="1.6"/></g>
<g fill="#0b2f8c"><circle cx="474.34" cy="48.2" r="1.6"/><circle cx="474.34" cy="60" r="1.6"/><circle cx="474.34" cy="61.6" r="1.6"/><circle cx="474.34" cy="71.7" r="1.6"/><circle cx="474.34" cy="82.3" r="1.6"/><circle cx="474.34" cy="83.8" r="1.6"/><circle cx="474.34" cy="88.9" r="1.6"/><circle cx="474.34" cy="98.9" r="1.6"/><circle cx="474.34" cy="100.8" r="1.6"/><circle cx="474.34" cy="102.7" r="1.6"/><circle cx="474.34" cy="104.6" r="1.6"/><circle cx="474.34" cy="106.6" r="1.6"/><circle cx="474.34" cy="108.5" r="1.6"/><circle cx="474.34" cy="111.4" r="1.6"/><circle cx="474.34" cy="113.3" r="1.6"/><circle cx="474.34" cy="114.6" r="1.6"/><circle cx="474.34" cy="134.3" r="1.6"/><circle cx="474.34" cy="138.2" r="1.6"/><circle cx="474.34" cy="148" r="1.6"/><circle cx="474.34" cy="152.2" r="1.6"/><circle cx="474.34" cy="154.1" r="1.6"/><circle cx="474.34" cy="156" r="1.6"/><circle cx="474.34" cy="165.6" r="1.6"/><circle cx="474.34" cy="169.4" r="1.6"/><circle cx="474.34" cy="175.8" r="1.6"/><circle cx="474.34" cy="177.7" r="1.6"/><circle cx="474.34" cy="179.6" r="1.6"/><circle cx="474.34" cy="181.6" r="1.6"/><circle cx="474.34" cy="183.5" r="1.6"/><circle cx="474.34" cy="185.7" r="1.6"/><circle cx="474.34" cy="187.3" r="1.6"/><circle cx="474.34" cy="188.9" r="1.6"/><circle cx="474.34" cy="195.5" r="1.6"/><circle cx="474.34" cy="202.4" r="1.6"/><circle cx="474.34" cy="217.4" r="1.6"/><circle cx="474.34" cy="227.5" r="1.6"/><circle cx="474.34" cy="233.4" r="1.6"/><circle cx="474.34" cy="250.4" r="1.6"/><circle cx="474.34" cy="256.5" r="1.6"/><circle cx="474.34" cy="257.8" r="1.6"/><circle cx="474.34" cy="259.2" r="1.6"/><circle cx="474.34" cy="269.1" r="1.6"/></g>
<rect x="437.25" y="25.8" width="51.00" height="255.20" fill="none" stroke="#c4c4c4" stroke-width="0.9"/>
<rect x="437.25" y="16.5" width="51.00" height="9.30" fill="#d9d9d9" stroke="#c4c4c4" stroke-width="0.6"/>
<line x1="437.25" x2="488.25" y1="25.50" y2="25.50" stroke="#bdbdbd" stroke-width="1.3"/>
<text x="462.75" y="23.95" font-size="6.3" text-anchor="middle" fill="#1a1a1a" stroke="#1a1a1a">InvSimpson</text>
<line x1="435.65" x2="437.25" y1="52.5" y2="52.5" stroke="#999" stroke-width="0.6"/>
<text x="434.95" y="55.40" font-size="7.0" text-anchor="end" fill="#636363" stroke="#636363">60</text>
<line x1="435.65" x2="437.25" y1="128" y2="128" stroke="#999" stroke-width="0.6"/>
<text x="434.95" y="130.90" font-size="7.0" text-anchor="end" fill="#636363" stroke="#636363">40</text>
<line x1="435.65" x2="437.25" y1="204.25" y2="204.25" stroke="#999" stroke-width="0.6"/>
<text x="434.95" y="207.15" font-size="7.0" text-anchor="end" fill="#636363" stroke="#636363">20</text>
<line x1="435.65" x2="437.25" y1="280" y2="280" stroke="#999" stroke-width="0.6"/>
<text x="434.95" y="282.90" font-size="7.0" text-anchor="end" fill="#636363" stroke="#636363">0</text>
<line x1="451.16" x2="451.16" y1="281" y2="282.6" stroke="#999" stroke-width="0.6"/>
<text transform="translate(450.06,284.0) rotate(90)" font-size="6.4" fill="#636363" stroke="#636363">High</text>
<line x1="474.34" x2="474.34" y1="281" y2="282.6" stroke="#999" stroke-width="0.6"/>
<text transform="translate(473.24,284.0) rotate(90)" font-size="6.4" fill="#636363" stroke="#636363">Low</text>
<text transform="translate(299.6,153.25) rotate(-90)" font-size="8.4" text-anchor="middle" fill="#1a1a1a" stroke="#1a1a1a" textLength="52.7" lengthAdjust="spacingAndGlyphs">Alpha Diversity</text>
<text x="495.2" y="147.00" font-size="3.9" fill="#1a1a1a" stroke="#1a1a1a" style="stroke-width:0.04px" textLength="51.5" lengthAdjust="spacingAndGlyphs">Indoxy-3-Propionic Acid (nM)</text>
<rect x="495.90" y="151.1" width="5.8" height="4.10" fill="#f3a3a5"/>
<line x1="498.80" x2="498.80" y1="151.1" y2="155.2" stroke="#e31a1c" stroke-width="0.8"/>
<line x1="496.50" x2="501.10" y1="153.15" y2="153.15" stroke="#e31a1c" stroke-width="0.7" opacity="0.6"/>
<circle cx="498.80" cy="153.15" r="1.48" fill="#e31a1c"/>
<text x="504.2" y="154.16" font-size="4.2" fill="#1a1a1a" stroke="#1a1a1a" style="stroke-width:0.04px">High</text>
<rect x="495.90" y="157.9" width="5.8" height="3.80" fill="#a8b4d8"/>
<line x1="498.80" x2="498.80" y1="157.9" y2="161.7" stroke="#0b2f8c" stroke-width="0.8"/>
<line x1="496.50" x2="501.10" y1="159.80" y2="159.80" stroke="#0b2f8c" stroke-width="0.7" opacity="0.6"/>
<circle cx="498.80" cy="159.80" r="1.37" fill="#0b2f8c"/>
<text x="504.2" y="160.81" font-size="4.2" fill="#1a1a1a" stroke="#1a1a1a" style="stroke-width:0.04px">Low</text>
<text x="403.2" y="308.5" font-size="7.6" font-weight="normal" text-anchor="middle" fill="#222" stroke="#222">(B)</text>
<text x="42.8" y="333.2" font-size="8.1" text-anchor="middle" font-weight="normal" fill="#222" stroke="#222" textLength="30.7" lengthAdjust="spacingAndGlyphs"><tspan font-style="italic" font-weight="normal">p</tspan> = 0.866</text>
<text x="114.8" y="333.2" font-size="8.1" text-anchor="middle" font-weight="normal" fill="#222" stroke="#222" textLength="30.7" lengthAdjust="spacingAndGlyphs"><tspan font-style="italic" font-weight="normal">p</tspan> = 0.704</text>
<text x="184.6" y="333.4" font-size="8.1" text-anchor="middle" font-weight="normal" fill="#222" stroke="#222" textLength="31.1" lengthAdjust="spacingAndGlyphs"><tspan font-style="italic" font-weight="normal">p</tspan> = 0.852</text>
<rect x="18.25" y="350.75" width="55.75" height="241.15" fill="#fff"/>
<line x1="18.25" x2="74" y1="396.19" y2="396.19" stroke="#f6f6f6" stroke-width="0.6"/>
<line x1="18.25" x2="74" y1="480.56" y2="480.56" stroke="#f6f6f6" stroke-width="0.6"/>
<line x1="18.25" x2="74" y1="564.94" y2="564.94" stroke="#f6f6f6" stroke-width="0.6"/>
<line x1="18.25" x2="74" y1="354" y2="354" stroke="#eeeeee" stroke-width="0.9"/>
<line x1="18.25" x2="74" y1="437.75" y2="437.75" stroke="#eeeeee" stroke-width="0.9"/>
<line x1="18.25" x2="74" y1="522.75" y2="522.75" stroke="#eeeeee" stroke-width="0.9"/>
<line x1="33.45" x2="33.45" y1="350.75" y2="591.9" stroke="#eeeeee" stroke-width="0.9"/>
<line x1="58.80" x2="58.80" y1="350.75" y2="591.9" stroke="#eeeeee" stroke-width="0.9"/>
<line x1="33.45" x2="33.45" y1="364.2" y2="384" stroke="#8a8a8a" stroke-width="0.9"/>
<line x1="33.45" x2="33.45" y1="427" y2="474.9" stroke="#8a8a8a" stroke-width="0.9"/>
<rect x="24.1" y="384" width="19.40" height="43.00" fill="none" stroke="#8a8a8a" stroke-width="0.8"/>
<line x1="24.1" x2="43.5" y1="400.2" y2="400.2" stroke="#4a4a4a" stroke-width="1.0"/>
<line x1="58.80" x2="58.80" y1="361.4" y2="384.6" stroke="#8a8a8a" stroke-width="0.9"/>
<line x1="58.80" x2="58.80" y1="435.7" y2="500.4" stroke="#8a8a8a" stroke-width="0.9"/>
<rect x="49.3" y="384.6" width="19.50" height="51.10" fill="none" stroke="#8a8a8a" stroke-width="0.8"/>
<line x1="49.3" x2="68.8" y1="400.6" y2="400.6" stroke="#4a4a4a" stroke-width="1.0"/>
<g fill="#e31a1c"><circle cx="33.45" cy="364.2" r="1.6"/><circle cx="33.45" cy="370" r="1.6"/><circle cx="33.45" cy="371.9" r="1.6"/><circle cx="33.45" cy="378.2" r="1.6"/><circle cx="33.45" cy="380.08" r="1.6"/><circle cx="33.45" cy="381.95" r="1.6"/><circle cx="33.45" cy="383.83" r="1.6"/><circle cx="33.45" cy="385.71" r="1.6"/><circle cx="33.45" cy="387.58" r="1.6"/><circle cx="33.45" cy="389.46" r="1.6"/><circle cx="33.45" cy="391.34" r="1.6"/><circle cx="33.45" cy="393.21" r="1.6"/><circle cx="33.45" cy="395.09" r="1.6"/><circle cx="33.45" cy="396.96" r="1.6"/><circle cx="33.45" cy="398.84" r="1.6"/><circle cx="33.45" cy="400.72" r="1.6"/><circle cx="33.45" cy="402.59" r="1.6"/><circle cx="33.45" cy="404.47" r="1.6"/><circle cx="33.45" cy="406.35" r="1.6"/><circle cx="33.45" cy="408.22" r="1.6"/><circle cx="33.45" cy="410.1" r="1.6"/><circle cx="33.45" cy="420.6" r="1.6"/><circle cx="33.45" cy="421.9" r="1.6"/><circle cx="33.45" cy="428" r="1.6"/><circle cx="33.45" cy="429.9" r="1.6"/><circle cx="33.45" cy="431.6" r="1.6"/><circle cx="33.45" cy="439.2" r="1.6"/><circle cx="33.45" cy="445.3" r="1.6"/><circle cx="33.45" cy="450.4" r="1.6"/><circle cx="33.45" cy="465.5" r="1.6"/><circle cx="33.45" cy="474.9" r="1.6"/><circle cx="33.45" cy="496.6" r="1.6"/><circle cx="33.45" cy="524.25" r="1.6"/><circle cx="33.45" cy="541.75" r="1.6"/><circle cx="33.45" cy="563.5" r="1.6"/></g>
<g fill="#0b2f8c"><circle cx="58.80" cy="361.4" r="1.6"/><circle cx="58.80" cy="368.7" r="1.6"/><circle cx="58.80" cy="370.55" r="1.6"/><circle cx="58.80" cy="372.41" r="1.6"/><circle cx="58.80" cy="374.26" r="1.6"/><circle cx="58.80" cy="376.12" r="1.6"/><circle cx="58.80" cy="377.97" r="1.6"/><circle cx="58.80" cy="379.83" r="1.6"/><circle cx="58.80" cy="381.68" r="1.6"/><circle cx="58.80" cy="383.54" r="1.6"/><circle cx="58.80" cy="385.39" r="1.6"/><circle cx="58.80" cy="387.25" r="1.6"/><circle cx="58.80" cy="389.1" r="1.6"/><circle cx="58.80" cy="392.3" r="1.6"/><circle cx="58.80" cy="394.2" r="1.6"/><circle cx="58.80" cy="396.1" r="1.6"/><circle cx="58.80" cy="398" r="1.6"/><circle cx="58.80" cy="399.9" r="1.6"/><circle cx="58.80" cy="410.1" r="1.6"/><circle cx="58.80" cy="414" r="1.6"/><circle cx="58.80" cy="415.9" r="1.6"/><circle cx="58.80" cy="417.8" r="1.6"/><circle cx="58.80" cy="423.5" r="1.6"/><circle cx="58.80" cy="425.5" r="1.6"/><circle cx="58.80" cy="427.4" r="1.6"/><circle cx="58.80" cy="432.5" r="1.6"/><circle cx="58.80" cy="434.8" r="1.6"/><circle cx="58.80" cy="436.6" r="1.6"/><circle cx="58.80" cy="438.3" r="1.6"/><circle cx="58.80" cy="440.2" r="1.6"/><circle cx="58.80" cy="442.4" r="1.6"/><circle cx="58.80" cy="455.5" r="1.6"/><circle cx="58.80" cy="457.4" r="1.6"/><circle cx="58.80" cy="476.6" r="1.6"/><circle cx="58.80" cy="489" r="1.6"/><circle cx="58.80" cy="500.4" r="1.6"/><circle cx="58.80" cy="533.25" r="1.6"/><circle cx="58.80" cy="581" r="1.6"/></g>
<rect x="18.25" y="350.75" width="55.75" height="241.15" fill="none" stroke="#c4c4c4" stroke-width="0.9"/>
<rect x="18.25" y="341.5" width="55.75" height="9.25" fill="#d9d9d9" stroke="#c4c4c4" stroke-width="0.6"/>
<line x1="18.25" x2="74" y1="350.45" y2="350.45" stroke="#bdbdbd" stroke-width="1.3"/>
<text x="46.12" y="348.48" font-size="6.3" text-anchor="middle" fill="#1a1a1a" stroke="#1a1a1a">Shannon</text>
<line x1="16.65" x2="18.25" y1="354" y2="354" stroke="#999" stroke-width="0.6"/>
<text x="15.95" y="356.90" font-size="7.0" text-anchor="end" fill="#636363" stroke="#636363">5</text>
<line x1="16.65" x2="18.25" y1="437.75" y2="437.75" stroke="#999" stroke-width="0.6"/>
<text x="15.95" y="440.65" font-size="7.0" text-anchor="end" fill="#636363" stroke="#636363">4</text>
<line x1="16.65" x2="18.25" y1="522.75" y2="522.75" stroke="#999" stroke-width="0.6"/>
<text x="15.95" y="525.65" font-size="7.0" text-anchor="end" fill="#636363" stroke="#636363">3</text>
<line x1="33.45" x2="33.45" y1="591.9" y2="593.5" stroke="#999" stroke-width="0.6"/>
<text transform="translate(32.35,593.9) rotate(90)" font-size="6.4" fill="#636363" stroke="#636363">High</text>
<line x1="58.80" x2="58.80" y1="591.9" y2="593.5" stroke="#999" stroke-width="0.6"/>
<text transform="translate(57.70,593.9) rotate(90)" font-size="6.4" fill="#636363" stroke="#636363">Low</text>
<rect x="87.5" y="350.75" width="55.00" height="241.15" fill="#fff"/>
<line x1="87.5" x2="142.5" y1="383.50" y2="383.50" stroke="#f6f6f6" stroke-width="0.6"/>
<line x1="87.5" x2="142.5" y1="449.00" y2="449.00" stroke="#f6f6f6" stroke-width="0.6"/>
<line x1="87.5" x2="142.5" y1="514.50" y2="514.50" stroke="#f6f6f6" stroke-width="0.6"/>
<line x1="87.5" x2="142.5" y1="580.00" y2="580.00" stroke="#f6f6f6" stroke-width="0.6"/>
<line x1="87.5" x2="142.5" y1="350.75" y2="350.75" stroke="#eeeeee" stroke-width="0.9"/>
<line x1="87.5" x2="142.5" y1="416" y2="416" stroke="#eeeeee" stroke-width="0.9"/>
<line x1="87.5" x2="142.5" y1="481.75" y2="481.75" stroke="#eeeeee" stroke-width="0.9"/>
<line x1="87.5" x2="142.5" y1="547.25" y2="547.25" stroke="#eeeeee" stroke-width="0.9"/>
<line x1="102.50" x2="102.50" y1="350.75" y2="591.9" stroke="#eeeeee" stroke-width="0.9"/>
<line x1="127.50" x2="127.50" y1="350.75" y2="591.9" stroke="#eeeeee" stroke-width="0.9"/>
<line x1="102.50" x2="102.50" y1="361.2" y2="365.2" stroke="#8a8a8a" stroke-width="0.9"/>
<line x1="102.50" x2="102.50" y1="377.5" y2="383.1" stroke="#8a8a8a" stroke-width="0.9"/>
<rect x="93.1" y="365.2" width="19.20" height="12.30" fill="none" stroke="#8a8a8a" stroke-width="0.8"/>
<line x1="93.1" x2="112.3" y1="371" y2="371" stroke="#4a4a4a" stroke-width="1.0"/>
<line x1="127.50" x2="127.50" y1="361" y2="364.4" stroke="#8a8a8a" stroke-width="0.9"/>
<line x1="127.50" x2="127.50" y1="379.3" y2="397.8" stroke="#8a8a8a" stroke-width="0.9"/>
<rect x="118.4" y="364.4" width="19.20" height="14.90" fill="none" stroke="#8a8a8a" stroke-width="0.8"/>
<line x1="118.4" x2="137.6" y1="370.3" y2="370.3" stroke="#4a4a4a" stroke-width="1.0"/>
<g fill="#e31a1c"><circle cx="102.50" cy="361.2" r="1.6"/><circle cx="102.50" cy="362.82" r="1.6"/><circle cx="102.50" cy="364.44" r="1.6"/><circle cx="102.50" cy="366.05" r="1.6"/><circle cx="102.50" cy="367.67" r="1.6"/><circle cx="102.50" cy="369.29" r="1.6"/><circle cx="102.50" cy="370.91" r="1.6"/><circle cx="102.50" cy="372.53" r="1.6"/><circle cx="102.50" cy="374.15" r="1.6"/><circle cx="102.50" cy="375.76" r="1.6"/><circle cx="102.50" cy="377.38" r="1.6"/><circle cx="102.50" cy="379.0" r="1.6"/><circle cx="102.50" cy="381" r="1.6"/><circle cx="102.50" cy="383.1" r="1.6"/><circle cx="102.50" cy="404.2" r="1.6"/><circle cx="102.50" cy="425.4" r="1.6"/><circle cx="102.50" cy="426.3" r="1.6"/><circle cx="102.50" cy="455.7" r="1.6"/><circle cx="102.50" cy="464.2" r="1.6"/><circle cx="102.50" cy="481.25" r="1.6"/><circle cx="102.50" cy="543.25" r="1.6"/><circle cx="102.50" cy="573.5" r="1.6"/></g>
<g fill="#0b2f8c"><circle cx="127.50" cy="361.0" r="1.6"/><circle cx="127.50" cy="362.54" r="1.6"/><circle cx="127.50" cy="364.08" r="1.6"/><circle cx="127.50" cy="365.62" r="1.6"/><circle cx="127.50" cy="367.15" r="1.6"/><circle cx="127.50" cy="368.69" r="1.6"/><circle cx="127.50" cy="370.23" r="1.6"/><circle cx="127.50" cy="371.77" r="1.6"/><circle cx="127.50" cy="373.31" r="1.6"/><circle cx="127.50" cy="374.85" r="1.6"/><circle cx="127.50" cy="376.38" r="1.6"/><circle cx="127.50" cy="377.92" r="1.6"/><circle cx="127.50" cy="379.46" r="1.6"/><circle cx="127.50" cy="381.0" r="1.6"/><circle cx="127.50" cy="387.4" r="1.6"/><circle cx="127.50" cy="390.5" r="1.6"/><circle cx="127.50" cy="397.8" r="1.6"/><circle cx="127.50" cy="403.3" r="1.6"/><circle cx="127.50" cy="421.8" r="1.6"/><circle cx="127.50" cy="427.9" r="1.6"/><circle cx="127.50" cy="433.3" r="1.6"/><circle cx="127.50" cy="462.4" r="1.6"/><circle cx="127.50" cy="487.5" r="1.6"/><circle cx="127.50" cy="581" r="1.6"/></g>
<rect x="87.5" y="350.75" width="55.00" height="241.15" fill="none" stroke="#c4c4c4" stroke-width="0.9"/>
<rect x="87.5" y="341.5" width="55.00" height="9.25" fill="#d9d9d9" stroke="#c4c4c4" stroke-width="0.6"/>
<line x1="87.5" x2="142.5" y1="350.45" y2="350.45" stroke="#bdbdbd" stroke-width="1.3"/>
<text x="115.00" y="348.48" font-size="6.3" text-anchor="middle" fill="#1a1a1a" stroke="#1a1a1a">Simpson</text>
<line x1="85.9" x2="87.5" y1="350.75" y2="350.75" stroke="#999" stroke-width="0.6"/>
<text x="85.2" y="353.65" font-size="7.0" text-anchor="end" fill="#636363" stroke="#636363">1.0</text>
<line x1="85.9" x2="87.5" y1="416" y2="416" stroke="#999" stroke-width="0.6"/>
<text x="85.2" y="418.90" font-size="7.0" text-anchor="end" fill="#636363" stroke="#636363">0.9</text>
<line x1="85.9" x2="87.5" y1="481.75" y2="481.75" stroke="#999" stroke-width="0.6"/>
<text x="85.2" y="484.65" font-size="7.0" text-anchor="end" fill="#636363" stroke="#636363">0.8</text>
<line x1="85.9" x2="87.5" y1="547.25" y2="547.25" stroke="#999" stroke-width="0.6"/>
<text x="85.2" y="550.15" font-size="7.0" text-anchor="end" fill="#636363" stroke="#636363">0.7</text>
<line x1="102.50" x2="102.50" y1="591.9" y2="593.5" stroke="#999" stroke-width="0.6"/>
<text transform="translate(101.40,593.9) rotate(90)" font-size="6.4" fill="#636363" stroke="#636363">High</text>
<line x1="127.50" x2="127.50" y1="591.9" y2="593.5" stroke="#999" stroke-width="0.6"/>
<text transform="translate(126.40,593.9) rotate(90)" font-size="6.4" fill="#636363" stroke="#636363">Low</text>
<rect x="154.75" y="350.75" width="55.50" height="241.15" fill="#fff"/>
<line x1="154.75" x2="210.25" y1="411.42" y2="411.42" stroke="#f6f6f6" stroke-width="0.6"/>
<line x1="154.75" x2="210.25" y1="483.25" y2="483.25" stroke="#f6f6f6" stroke-width="0.6"/>
<line x1="154.75" x2="210.25" y1="555.08" y2="555.08" stroke="#f6f6f6" stroke-width="0.6"/>
<line x1="154.75" x2="210.25" y1="375.5" y2="375.5" stroke="#eeeeee" stroke-width="0.9"/>
<line x1="154.75" x2="210.25" y1="446.75" y2="446.75" stroke="#eeeeee" stroke-width="0.9"/>
<line x1="154.75" x2="210.25" y1="519" y2="519" stroke="#eeeeee" stroke-width="0.9"/>
<line x1="154.75" x2="210.25" y1="591" y2="591" stroke="#eeeeee" stroke-width="0.9"/>
<line x1="169.89" x2="169.89" y1="350.75" y2="591.9" stroke="#eeeeee" stroke-width="0.9"/>
<line x1="195.11" x2="195.11" y1="350.75" y2="591.9" stroke="#eeeeee" stroke-width="0.9"/>
<line x1="169.89" x2="169.89" y1="371.2" y2="429.5" stroke="#8a8a8a" stroke-width="0.9"/>
<line x1="169.89" x2="169.89" y1="501.2" y2="580.3" stroke="#8a8a8a" stroke-width="0.9"/>
<rect x="160.1" y="429.5" width="19.40" height="71.70" fill="none" stroke="#8a8a8a" stroke-width="0.8"/>
<line x1="160.1" x2="179.5" y1="472.4" y2="472.4" stroke="#4a4a4a" stroke-width="1.0"/>
<line x1="195.11" x2="195.11" y1="361.4" y2="416.3" stroke="#8a8a8a" stroke-width="0.9"/>
<line x1="195.11" x2="195.11" y1="507.2" y2="580.6" stroke="#8a8a8a" stroke-width="0.9"/>
<rect x="185.3" y="416.3" width="19.70" height="90.90" fill="none" stroke="#8a8a8a" stroke-width="0.8"/>
<line x1="185.3" x2="205" y1="468.3" y2="468.3" stroke="#4a4a4a" stroke-width="1.0"/>
<g fill="#e31a1c"><circle cx="169.89" cy="371.2" r="1.6"/><circle cx="169.89" cy="375.4" r="1.6"/><circle cx="169.89" cy="379.5" r="1.6"/><circle cx="169.89" cy="391.6" r="1.6"/><circle cx="169.89" cy="392.9" r="1.6"/><circle cx="169.89" cy="394.6" r="1.6"/><circle cx="169.89" cy="405.7" r="1.6"/><circle cx="169.89" cy="410.4" r="1.6"/><circle cx="169.89" cy="419.7" r="1.6"/><circle cx="169.89" cy="421.6" r="1.6"/><circle cx="169.89" cy="423.5" r="1.6"/><circle cx="169.89" cy="428" r="1.6"/><circle cx="169.89" cy="433.1" r="1.6"/><circle cx="169.89" cy="435.4" r="1.6"/><circle cx="169.89" cy="442.8" r="1.6"/><circle cx="169.89" cy="444.7" r="1.6"/><circle cx="169.89" cy="454.5" r="1.6"/><circle cx="169.89" cy="470.2" r="1.6"/><circle cx="169.89" cy="472.1" r="1.6"/><circle cx="169.89" cy="474" r="1.6"/><circle cx="169.89" cy="484.2" r="1.6"/><circle cx="169.89" cy="486.1" r="1.6"/><circle cx="169.89" cy="492.5" r="1.6"/><circle cx="169.89" cy="494.4" r="1.6"/><circle cx="169.89" cy="496.3" r="1.6"/><circle cx="169.89" cy="501.5" r="1.6"/><circle cx="169.89" cy="512.9" r="1.6"/><circle cx="169.89" cy="517.1" r="1.6"/><circle cx="169.89" cy="546.5" r="1.6"/><circle cx="169.89" cy="559.4" r="1.6"/><circle cx="169.89" cy="568.5" r="1.6"/><circle cx="169.89" cy="570" r="1.6"/><circle cx="169.89" cy="572.7" r="1.6"/><circle cx="169.89" cy="578.5" r="1.6"/><circle cx="169.89" cy="580.3" r="1.6"/></g>
<g fill="#0b2f8c"><circle cx="195.11" cy="361.4" r="1.6"/><circle cx="195.11" cy="380.2" r="1.6"/><circle cx="195.11" cy="382.7" r="1.6"/><circle cx="195.11" cy="384.4" r="1.6"/><circle cx="195.11" cy="389.1" r="1.6"/><circle cx="195.11" cy="393.8" r="1.6"/><circle cx="195.11" cy="403.8" r="1.6"/><circle cx="195.11" cy="405.3" r="1.6"/><circle cx="195.11" cy="407" r="1.6"/><circle cx="195.11" cy="410.1" r="1.6"/><circle cx="195.11" cy="422.6" r="1.6"/><circle cx="195.11" cy="426.7" r="1.6"/><circle cx="195.11" cy="430.8" r="1.6"/><circle cx="195.11" cy="432.5" r="1.6"/><circle cx="195.11" cy="434.5" r="1.6"/><circle cx="195.11" cy="437.4" r="1.6"/><circle cx="195.11" cy="453" r="1.6"/><circle cx="195.11" cy="456.2" r="1.6"/><circle cx="195.11" cy="460" r="1.6"/><circle cx="195.11" cy="465.5" r="1.6"/><circle cx="195.11" cy="467.3" r="1.6"/><circle cx="195.11" cy="468.9" r="1.6"/><circle cx="195.11" cy="475.3" r="1.6"/><circle cx="195.11" cy="482.6" r="1.6"/><circle cx="195.11" cy="492.8" r="1.6"/><circle cx="195.11" cy="496.3" r="1.6"/><circle cx="195.11" cy="503" r="1.6"/><circle cx="195.11" cy="510.3" r="1.6"/><circle cx="195.11" cy="526.1" r="1.6"/><circle cx="195.11" cy="531.4" r="1.6"/><circle cx="195.11" cy="540.6" r="1.6"/><circle cx="195.11" cy="545.5" r="1.6"/><circle cx="195.11" cy="557.3" r="1.6"/><circle cx="195.11" cy="559.1" r="1.6"/><circle cx="195.11" cy="560.9" r="1.6"/><circle cx="195.11" cy="562.4" r="1.6"/><circle cx="195.11" cy="570" r="1.6"/><circle cx="195.11" cy="573.9" r="1.6"/><circle cx="195.11" cy="580.6" r="1.6"/></g>
<rect x="154.75" y="350.75" width="55.50" height="241.15" fill="none" stroke="#c4c4c4" stroke-width="0.9"/>
<rect x="154.75" y="341.5" width="55.50" height="9.25" fill="#d9d9d9" stroke="#c4c4c4" stroke-width="0.6"/>
<line x1="154.75" x2="210.25" y1="350.45" y2="350.45" stroke="#bdbdbd" stroke-width="1.3"/>
<text x="182.50" y="348.48" font-size="6.3" text-anchor="middle" fill="#1a1a1a" stroke="#1a1a1a">InvSimpson</text>
<line x1="153.15" x2="154.75" y1="375.5" y2="375.5" stroke="#999" stroke-width="0.6"/>
<text x="152.45" y="378.40" font-size="7.0" text-anchor="end" fill="#636363" stroke="#636363">60</text>
<line x1="153.15" x2="154.75" y1="446.75" y2="446.75" stroke="#999" stroke-width="0.6"/>
<text x="152.45" y="449.65" font-size="7.0" text-anchor="end" fill="#636363" stroke="#636363">40</text>
<line x1="153.15" x2="154.75" y1="519" y2="519" stroke="#999" stroke-width="0.6"/>
<text x="152.45" y="521.90" font-size="7.0" text-anchor="end" fill="#636363" stroke="#636363">20</text>
<line x1="153.15" x2="154.75" y1="591" y2="591" stroke="#999" stroke-width="0.6"/>
<text x="152.45" y="593.90" font-size="7.0" text-anchor="end" fill="#636363" stroke="#636363">0</text>
<line x1="169.89" x2="169.89" y1="591.9" y2="593.5" stroke="#999" stroke-width="0.6"/>
<text transform="translate(168.79,593.9) rotate(90)" font-size="6.4" fill="#636363" stroke="#636363">High</text>
<line x1="195.11" x2="195.11" y1="591.9" y2="593.5" stroke="#999" stroke-width="0.6"/>
<text transform="translate(194.01,593.9) rotate(90)" font-size="6.4" fill="#636363" stroke="#636363">Low</text>
<text transform="translate(10.3,470.9) rotate(-90)" font-size="7.9" text-anchor="middle" fill="#1a1a1a" stroke="#1a1a1a" textLength="49.6" lengthAdjust="spacingAndGlyphs">Alpha Diversity</text>
<text x="216.8" y="465.06" font-size="4.6" fill="#1a1a1a" stroke="#1a1a1a" style="stroke-width:0.04px" textLength="39" lengthAdjust="spacingAndGlyphs">3-Indoxyl Sulfate (nM)</text>
<rect x="217.20" y="468.6" width="6.2" height="4.40" fill="#f3a3a5"/>
<line x1="220.30" x2="220.30" y1="468.6" y2="473" stroke="#e31a1c" stroke-width="0.8"/>
<line x1="217.80" x2="222.80" y1="470.80" y2="470.80" stroke="#e31a1c" stroke-width="0.7" opacity="0.6"/>
<circle cx="220.30" cy="470.80" r="1.58" fill="#e31a1c"/>
<text x="225.8" y="471.78" font-size="4.1" fill="#1a1a1a" stroke="#1a1a1a" style="stroke-width:0.04px">High</text>
<rect x="217.20" y="475.2" width="6.2" height="4.30" fill="#a8b4d8"/>
<line x1="220.30" x2="220.30" y1="475.2" y2="479.5" stroke="#0b2f8c" stroke-width="0.8"/>
<line x1="217.80" x2="222.80" y1="477.35" y2="477.35" stroke="#0b2f8c" stroke-width="0.7" opacity="0.6"/>
<circle cx="220.30" cy="477.35" r="1.55" fill="#0b2f8c"/>
<text x="225.8" y="478.33" font-size="4.1" fill="#1a1a1a" stroke="#1a1a1a" style="stroke-width:0.04px">Low</text>
<text x="116.2" y="619.8" font-size="7.6" font-weight="normal" text-anchor="middle" fill="#222" stroke="#222">(C)</text>
<text x="330.8" y="334.3" font-size="8.1" text-anchor="middle" font-weight="bold" fill="#222" stroke="#222" textLength="31.1" lengthAdjust="spacingAndGlyphs"><tspan font-style="italic" font-weight="normal">p</tspan> = 0.999</text>
<text x="398.4" y="334.3" font-size="8.1" text-anchor="middle" font-weight="bold" fill="#222" stroke="#222" textLength="30.4" lengthAdjust="spacingAndGlyphs"><tspan font-style="italic" font-weight="normal">p</tspan> = 0.814</text>
<text x="468.9" y="334.3" font-size="8.1" text-anchor="middle" font-weight="bold" fill="#222" stroke="#222" textLength="31" lengthAdjust="spacingAndGlyphs"><tspan font-style="italic" font-weight="normal">p</tspan> = 0.833</text>
<rect x="308.5" y="353.25" width="53.25" height="240.75" fill="#fff"/>
<line x1="308.5" x2="361.75" y1="398.62" y2="398.62" stroke="#f6f6f6" stroke-width="0.6"/>
<line x1="308.5" x2="361.75" y1="482.88" y2="482.88" stroke="#f6f6f6" stroke-width="0.6"/>
<line x1="308.5" x2="361.75" y1="567.12" y2="567.12" stroke="#f6f6f6" stroke-width="0.6"/>
<line x1="308.5" x2="361.75" y1="356.5" y2="356.5" stroke="#eeeeee" stroke-width="0.9"/>
<line x1="308.5" x2="361.75" y1="440.5" y2="440.5" stroke="#eeeeee" stroke-width="0.9"/>
<line x1="308.5" x2="361.75" y1="525" y2="525" stroke="#eeeeee" stroke-width="0.9"/>
<line x1="323.02" x2="323.02" y1="353.25" y2="594" stroke="#eeeeee" stroke-width="0.9"/>
<line x1="347.23" x2="347.23" y1="353.25" y2="594" stroke="#eeeeee" stroke-width="0.9"/>
<line x1="323.02" x2="323.02" y1="366.8" y2="387.3" stroke="#8f8f8f" stroke-width="0.9"/>
<line x1="323.02" x2="323.02" y1="430.3" y2="477.3" stroke="#8f8f8f" stroke-width="0.9"/>
<rect x="313.5" y="387.3" width="19.00" height="43.00" fill="none" stroke="#8f8f8f" stroke-width="0.8"/>
<line x1="313.5" x2="332.5" y1="399" y2="399" stroke="#5f5f5f" stroke-width="1.2"/>
<line x1="347.23" x2="347.23" y1="363.9" y2="383.4" stroke="#8f8f8f" stroke-width="0.9"/>
<line x1="347.23" x2="347.23" y1="438" y2="502.8" stroke="#8f8f8f" stroke-width="0.9"/>
<rect x="338.4" y="383.4" width="18.10" height="54.60" fill="none" stroke="#8f8f8f" stroke-width="0.8"/>
<line x1="338.4" x2="356.5" y1="405.4" y2="405.4" stroke="#5f5f5f" stroke-width="1.2"/>
<g fill="#e31a1c"><circle cx="323.02" cy="366.8" r="1.6"/><circle cx="323.02" cy="372.6" r="1.6"/><circle cx="323.02" cy="374.5" r="1.6"/><circle cx="323.02" cy="376.2" r="1.6"/><circle cx="323.02" cy="382.2" r="1.6"/><circle cx="323.02" cy="384.07" r="1.6"/><circle cx="323.02" cy="385.94" r="1.6"/><circle cx="323.02" cy="387.81" r="1.6"/><circle cx="323.02" cy="389.68" r="1.6"/><circle cx="323.02" cy="391.55" r="1.6"/><circle cx="323.02" cy="393.42" r="1.6"/><circle cx="323.02" cy="395.29" r="1.6"/><circle cx="323.02" cy="397.16" r="1.6"/><circle cx="323.02" cy="399.03" r="1.6"/><circle cx="323.02" cy="400.9" r="1.6"/><circle cx="323.02" cy="405.8" r="1.6"/><circle cx="323.02" cy="409.6" r="1.6"/><circle cx="323.02" cy="411.5" r="1.6"/><circle cx="323.02" cy="417" r="1.6"/><circle cx="323.02" cy="423" r="1.6"/><circle cx="323.02" cy="424.9" r="1.6"/><circle cx="323.02" cy="426.8" r="1.6"/><circle cx="323.02" cy="430" r="1.6"/><circle cx="323.02" cy="431.9" r="1.6"/><circle cx="323.02" cy="433.8" r="1.6"/><circle cx="323.02" cy="441.6" r="1.6"/><circle cx="323.02" cy="452.7" r="1.6"/><circle cx="323.02" cy="460.7" r="1.6"/><circle cx="323.02" cy="477.3" r="1.6"/><circle cx="323.02" cy="499.4" r="1.6"/><circle cx="323.02" cy="526.5" r="1.6"/><circle cx="323.02" cy="544.25" r="1.6"/><circle cx="323.02" cy="583.25" r="1.6"/></g>
<g fill="#0b2f8c"><circle cx="347.23" cy="363.9" r="1.6"/><circle cx="347.23" cy="371.3" r="1.6"/><circle cx="347.23" cy="373.22" r="1.6"/><circle cx="347.23" cy="375.13" r="1.6"/><circle cx="347.23" cy="377.05" r="1.6"/><circle cx="347.23" cy="378.97" r="1.6"/><circle cx="347.23" cy="380.88" r="1.6"/><circle cx="347.23" cy="382.8" r="1.6"/><circle cx="347.23" cy="387.9" r="1.6"/><circle cx="347.23" cy="393.3" r="1.6"/><circle cx="347.23" cy="397.1" r="1.6"/><circle cx="347.23" cy="400" r="1.6"/><circle cx="347.23" cy="401.9" r="1.6"/><circle cx="347.23" cy="403.8" r="1.6"/><circle cx="347.23" cy="405.8" r="1.6"/><circle cx="347.23" cy="407.7" r="1.6"/><circle cx="347.23" cy="412.8" r="1.6"/><circle cx="347.23" cy="419.2" r="1.6"/><circle cx="347.23" cy="421.1" r="1.6"/><circle cx="347.23" cy="424.9" r="1.6"/><circle cx="347.23" cy="428.7" r="1.6"/><circle cx="347.23" cy="430.6" r="1.6"/><circle cx="347.23" cy="437.1" r="1.6"/><circle cx="347.23" cy="439" r="1.6"/><circle cx="347.23" cy="440.9" r="1.6"/><circle cx="347.23" cy="442.8" r="1.6"/><circle cx="347.23" cy="444.8" r="1.6"/><circle cx="347.23" cy="447.6" r="1.6"/><circle cx="347.23" cy="458.2" r="1.6"/><circle cx="347.23" cy="468" r="1.6"/><circle cx="347.23" cy="479.2" r="1.6"/><circle cx="347.23" cy="491.3" r="1.6"/><circle cx="347.23" cy="502.8" r="1.6"/><circle cx="347.23" cy="535.75" r="1.6"/><circle cx="347.23" cy="565.5" r="1.6"/></g>
<rect x="308.5" y="353.25" width="53.25" height="240.75" fill="none" stroke="#c4c4c4" stroke-width="0.9"/>
<rect x="308.5" y="344.5" width="53.25" height="8.75" fill="#d9d9d9" stroke="#c4c4c4" stroke-width="0.6"/>
<line x1="308.5" x2="361.75" y1="352.95" y2="352.95" stroke="#bdbdbd" stroke-width="1.3"/>
<text x="335.12" y="351.23" font-size="6.3" text-anchor="middle" fill="#1a1a1a" stroke="#1a1a1a">Shannon</text>
<line x1="306.9" x2="308.5" y1="356.5" y2="356.5" stroke="#999" stroke-width="0.6"/>
<text x="306.2" y="359.40" font-size="7.0" text-anchor="end" fill="#636363" stroke="#636363">5</text>
<line x1="306.9" x2="308.5" y1="440.5" y2="440.5" stroke="#999" stroke-width="0.6"/>
<text x="306.2" y="443.40" font-size="7.0" text-anchor="end" fill="#636363" stroke="#636363">4</text>
<line x1="306.9" x2="308.5" y1="525" y2="525" stroke="#999" stroke-width="0.6"/>
<text x="306.2" y="527.90" font-size="7.0" text-anchor="end" fill="#636363" stroke="#636363">3</text>
<line x1="323.02" x2="323.02" y1="594" y2="595.6" stroke="#999" stroke-width="0.6"/>
<text transform="translate(321.92,596.0) rotate(90)" font-size="6.4" fill="#636363" stroke="#636363">High</text>
<line x1="347.23" x2="347.23" y1="594" y2="595.6" stroke="#999" stroke-width="0.6"/>
<text transform="translate(346.13,596.0) rotate(90)" font-size="6.4" fill="#636363" stroke="#636363">Low</text>
<rect x="375.75" y="353.25" width="53.50" height="240.75" fill="#fff"/>
<line x1="375.75" x2="429.25" y1="385.96" y2="385.96" stroke="#f6f6f6" stroke-width="0.6"/>
<line x1="375.75" x2="429.25" y1="451.38" y2="451.38" stroke="#f6f6f6" stroke-width="0.6"/>
<line x1="375.75" x2="429.25" y1="516.79" y2="516.79" stroke="#f6f6f6" stroke-width="0.6"/>
<line x1="375.75" x2="429.25" y1="582.21" y2="582.21" stroke="#f6f6f6" stroke-width="0.6"/>
<line x1="375.75" x2="429.25" y1="353.25" y2="353.25" stroke="#eeeeee" stroke-width="0.9"/>
<line x1="375.75" x2="429.25" y1="419" y2="419" stroke="#eeeeee" stroke-width="0.9"/>
<line x1="375.75" x2="429.25" y1="484" y2="484" stroke="#eeeeee" stroke-width="0.9"/>
<line x1="375.75" x2="429.25" y1="549.5" y2="549.5" stroke="#eeeeee" stroke-width="0.9"/>
<line x1="390.34" x2="390.34" y1="353.25" y2="594" stroke="#eeeeee" stroke-width="0.9"/>
<line x1="414.66" x2="414.66" y1="353.25" y2="594" stroke="#eeeeee" stroke-width="0.9"/>
<line x1="390.34" x2="390.34" y1="364" y2="367.7" stroke="#8f8f8f" stroke-width="0.9"/>
<line x1="390.34" x2="390.34" y1="380.5" y2="384" stroke="#8f8f8f" stroke-width="0.9"/>
<rect x="380.9" y="367.7" width="18.80" height="12.80" fill="none" stroke="#8f8f8f" stroke-width="0.8"/>
<line x1="380.9" x2="399.7" y1="372.3" y2="372.3" stroke="#5f5f5f" stroke-width="1.2"/>
<line x1="414.66" x2="414.66" y1="363.7" y2="368.2" stroke="#8f8f8f" stroke-width="0.9"/>
<line x1="414.66" x2="414.66" y1="384.5" y2="400.3" stroke="#8f8f8f" stroke-width="0.9"/>
<rect x="405.3" y="368.2" width="18.60" height="16.30" fill="none" stroke="#8f8f8f" stroke-width="0.8"/>
<line x1="405.3" x2="423.9" y1="373.3" y2="373.3" stroke="#5f5f5f" stroke-width="1.2"/>
<g fill="#e31a1c"><circle cx="390.34" cy="364.0" r="1.6"/><circle cx="390.34" cy="365.64" r="1.6"/><circle cx="390.34" cy="367.27" r="1.6"/><circle cx="390.34" cy="368.91" r="1.6"/><circle cx="390.34" cy="370.55" r="1.6"/><circle cx="390.34" cy="372.18" r="1.6"/><circle cx="390.34" cy="373.82" r="1.6"/><circle cx="390.34" cy="375.45" r="1.6"/><circle cx="390.34" cy="377.09" r="1.6"/><circle cx="390.34" cy="378.73" r="1.6"/><circle cx="390.34" cy="380.36" r="1.6"/><circle cx="390.34" cy="382.0" r="1.6"/><circle cx="390.34" cy="384" r="1.6"/><circle cx="390.34" cy="405.7" r="1.6"/><circle cx="390.34" cy="406.7" r="1.6"/><circle cx="390.34" cy="430.5" r="1.6"/><circle cx="390.34" cy="458.2" r="1.6"/><circle cx="390.34" cy="466.6" r="1.6"/><circle cx="390.34" cy="483.5" r="1.6"/><circle cx="390.34" cy="545.5" r="1.6"/><circle cx="390.34" cy="583.25" r="1.6"/></g>
<g fill="#0b2f8c"><circle cx="414.66" cy="363.7" r="1.6"/><circle cx="414.66" cy="365.26" r="1.6"/><circle cx="414.66" cy="366.81" r="1.6"/><circle cx="414.66" cy="368.37" r="1.6"/><circle cx="414.66" cy="369.93" r="1.6"/><circle cx="414.66" cy="371.49" r="1.6"/><circle cx="414.66" cy="373.04" r="1.6"/><circle cx="414.66" cy="374.6" r="1.6"/><circle cx="414.66" cy="376.16" r="1.6"/><circle cx="414.66" cy="377.71" r="1.6"/><circle cx="414.66" cy="379.27" r="1.6"/><circle cx="414.66" cy="380.83" r="1.6"/><circle cx="414.66" cy="382.39" r="1.6"/><circle cx="414.66" cy="383.94" r="1.6"/><circle cx="414.66" cy="385.5" r="1.6"/><circle cx="414.66" cy="389.8" r="1.6"/><circle cx="414.66" cy="392.9" r="1.6"/><circle cx="414.66" cy="400.3" r="1.6"/><circle cx="414.66" cy="424.2" r="1.6"/><circle cx="414.66" cy="428" r="1.6"/><circle cx="414.66" cy="428.9" r="1.6"/><circle cx="414.66" cy="435.9" r="1.6"/><circle cx="414.66" cy="464.6" r="1.6"/><circle cx="414.66" cy="489.75" r="1.6"/><circle cx="414.66" cy="576" r="1.6"/></g>
<rect x="375.75" y="353.25" width="53.50" height="240.75" fill="none" stroke="#c4c4c4" stroke-width="0.9"/>
<rect x="375.75" y="344.5" width="53.50" height="8.75" fill="#d9d9d9" stroke="#c4c4c4" stroke-width="0.6"/>
<line x1="375.75" x2="429.25" y1="352.95" y2="352.95" stroke="#bdbdbd" stroke-width="1.3"/>
<text x="402.50" y="351.23" font-size="6.3" text-anchor="middle" fill="#1a1a1a" stroke="#1a1a1a">Simpson</text>
<line x1="374.15" x2="375.75" y1="353.25" y2="353.25" stroke="#999" stroke-width="0.6"/>
<text x="373.45" y="356.15" font-size="7.0" text-anchor="end" fill="#636363" stroke="#636363">1.0</text>
<line x1="374.15" x2="375.75" y1="419" y2="419" stroke="#999" stroke-width="0.6"/>
<text x="373.45" y="421.90" font-size="7.0" text-anchor="end" fill="#636363" stroke="#636363">0.9</text>
<line x1="374.15" x2="375.75" y1="484" y2="484" stroke="#999" stroke-width="0.6"/>
<text x="373.45" y="486.90" font-size="7.0" text-anchor="end" fill="#636363" stroke="#636363">0.8</text>
<line x1="374.15" x2="375.75" y1="549.5" y2="549.5" stroke="#999" stroke-width="0.6"/>
<text x="373.45" y="552.40" font-size="7.0" text-anchor="end" fill="#636363" stroke="#636363">0.7</text>
<line x1="390.34" x2="390.34" y1="594" y2="595.6" stroke="#999" stroke-width="0.6"/>
<text transform="translate(389.24,596.0) rotate(90)" font-size="6.4" fill="#636363" stroke="#636363">High</text>
<line x1="414.66" x2="414.66" y1="594" y2="595.6" stroke="#999" stroke-width="0.6"/>
<text transform="translate(413.56,596.0) rotate(90)" font-size="6.4" fill="#636363" stroke="#636363">Low</text>
<rect x="441.25" y="353.25" width="53.25" height="240.75" fill="#fff"/>
<line x1="441.25" x2="494.5" y1="413.92" y2="413.92" stroke="#f6f6f6" stroke-width="0.6"/>
<line x1="441.25" x2="494.5" y1="485.75" y2="485.75" stroke="#f6f6f6" stroke-width="0.6"/>
<line x1="441.25" x2="494.5" y1="557.58" y2="557.58" stroke="#f6f6f6" stroke-width="0.6"/>
<line x1="441.25" x2="494.5" y1="378" y2="378" stroke="#eeeeee" stroke-width="0.9"/>
<line x1="441.25" x2="494.5" y1="449.5" y2="449.5" stroke="#eeeeee" stroke-width="0.9"/>
<line x1="441.25" x2="494.5" y1="521.5" y2="521.5" stroke="#eeeeee" stroke-width="0.9"/>
<line x1="441.25" x2="494.5" y1="593.5" y2="593.5" stroke="#eeeeee" stroke-width="0.9"/>
<line x1="455.77" x2="455.77" y1="353.25" y2="594" stroke="#eeeeee" stroke-width="0.9"/>
<line x1="479.98" x2="479.98" y1="353.25" y2="594" stroke="#eeeeee" stroke-width="0.9"/>
<line x1="455.77" x2="455.77" y1="377.7" y2="426.2" stroke="#8f8f8f" stroke-width="0.9"/>
<line x1="455.77" x2="455.77" y1="505" y2="582.8" stroke="#8f8f8f" stroke-width="0.9"/>
<rect x="446.4" y="426.2" width="18.20" height="78.80" fill="none" stroke="#8f8f8f" stroke-width="0.8"/>
<line x1="446.4" x2="464.6" y1="468" y2="468" stroke="#5f5f5f" stroke-width="1.2"/>
<line x1="479.98" x2="479.98" y1="363.9" y2="430.3" stroke="#8f8f8f" stroke-width="0.9"/>
<line x1="479.98" x2="479.98" y1="516" y2="582.8" stroke="#8f8f8f" stroke-width="0.9"/>
<rect x="470.4" y="430.3" width="19.00" height="85.70" fill="none" stroke="#8f8f8f" stroke-width="0.8"/>
<line x1="470.4" x2="489.4" y1="472.6" y2="472.6" stroke="#5f5f5f" stroke-width="1.2"/>
<g fill="#e31a1c"><circle cx="455.77" cy="377.7" r="1.6"/><circle cx="455.77" cy="382.5" r="1.6"/><circle cx="455.77" cy="394.3" r="1.6"/><circle cx="455.77" cy="395.8" r="1.6"/><circle cx="455.77" cy="407" r="1.6"/><circle cx="455.77" cy="408.3" r="1.6"/><circle cx="455.77" cy="412.4" r="1.6"/><circle cx="455.77" cy="422.1" r="1.6"/><circle cx="455.77" cy="423.9" r="1.6"/><circle cx="455.77" cy="425.5" r="1.6"/><circle cx="455.77" cy="429.4" r="1.6"/><circle cx="455.77" cy="431.3" r="1.6"/><circle cx="455.77" cy="433.8" r="1.6"/><circle cx="455.77" cy="435.2" r="1.6"/><circle cx="455.77" cy="437.1" r="1.6"/><circle cx="455.77" cy="439" r="1.6"/><circle cx="455.77" cy="440.3" r="1.6"/><circle cx="455.77" cy="447.3" r="1.6"/><circle cx="455.77" cy="456.9" r="1.6"/><circle cx="455.77" cy="462.4" r="1.6"/><circle cx="455.77" cy="473.5" r="1.6"/><circle cx="455.77" cy="475.4" r="1.6"/><circle cx="455.77" cy="476.9" r="1.6"/><circle cx="455.77" cy="485" r="1.6"/><circle cx="455.77" cy="488.1" r="1.6"/><circle cx="455.77" cy="495.2" r="1.6"/><circle cx="455.77" cy="499.6" r="1.6"/><circle cx="455.77" cy="503.5" r="1.6"/><circle cx="455.77" cy="505.4" r="1.6"/><circle cx="455.77" cy="515.3" r="1.6"/><circle cx="455.77" cy="547.8" r="1.6"/><circle cx="455.77" cy="549" r="1.6"/><circle cx="455.77" cy="562.7" r="1.6"/><circle cx="455.77" cy="571" r="1.6"/><circle cx="455.77" cy="572.8" r="1.6"/><circle cx="455.77" cy="575.1" r="1.6"/><circle cx="455.77" cy="581" r="1.6"/><circle cx="455.77" cy="582.8" r="1.6"/></g>
<g fill="#0b2f8c"><circle cx="479.98" cy="363.9" r="1.6"/><circle cx="479.98" cy="374.1" r="1.6"/><circle cx="479.98" cy="381.8" r="1.6"/><circle cx="479.98" cy="385.3" r="1.6"/><circle cx="479.98" cy="386.6" r="1.6"/><circle cx="479.98" cy="391.7" r="1.6"/><circle cx="479.98" cy="396.4" r="1.6"/><circle cx="479.98" cy="406.1" r="1.6"/><circle cx="479.98" cy="408.1" r="1.6"/><circle cx="479.98" cy="425.2" r="1.6"/><circle cx="479.98" cy="435.1" r="1.6"/><circle cx="479.98" cy="437.1" r="1.6"/><circle cx="479.98" cy="438.6" r="1.6"/><circle cx="479.98" cy="445.4" r="1.6"/><circle cx="479.98" cy="455.6" r="1.6"/><circle cx="479.98" cy="457.5" r="1.6"/><circle cx="479.98" cy="459" r="1.6"/><circle cx="479.98" cy="468.1" r="1.6"/><circle cx="479.98" cy="470.3" r="1.6"/><circle cx="479.98" cy="472.2" r="1.6"/><circle cx="479.98" cy="477.7" r="1.6"/><circle cx="479.98" cy="486.6" r="1.6"/><circle cx="479.98" cy="488.4" r="1.6"/><circle cx="479.98" cy="495.2" r="1.6"/><circle cx="479.98" cy="497.1" r="1.6"/><circle cx="479.98" cy="499" r="1.6"/><circle cx="479.98" cy="506" r="1.6"/><circle cx="479.98" cy="512.6" r="1.6"/><circle cx="479.98" cy="519.7" r="1.6"/><circle cx="479.98" cy="528.2" r="1.6"/><circle cx="479.98" cy="533.6" r="1.6"/><circle cx="479.98" cy="543.2" r="1.6"/><circle cx="479.98" cy="560" r="1.6"/><circle cx="479.98" cy="561.5" r="1.6"/><circle cx="479.98" cy="563" r="1.6"/><circle cx="479.98" cy="564.4" r="1.6"/><circle cx="479.98" cy="572.2" r="1.6"/><circle cx="479.98" cy="576.2" r="1.6"/><circle cx="479.98" cy="582.8" r="1.6"/></g>
<rect x="441.25" y="353.25" width="53.25" height="240.75" fill="none" stroke="#c4c4c4" stroke-width="0.9"/>
<rect x="441.25" y="344.5" width="53.25" height="8.75" fill="#d9d9d9" stroke="#c4c4c4" stroke-width="0.6"/>
<line x1="441.25" x2="494.5" y1="352.95" y2="352.95" stroke="#bdbdbd" stroke-width="1.3"/>
<text x="467.88" y="351.23" font-size="6.3" text-anchor="middle" fill="#1a1a1a" stroke="#1a1a1a">InvSimpson</text>
<line x1="439.65" x2="441.25" y1="378" y2="378" stroke="#999" stroke-width="0.6"/>
<text x="438.95" y="380.90" font-size="7.0" text-anchor="end" fill="#636363" stroke="#636363">60</text>
<line x1="439.65" x2="441.25" y1="449.5" y2="449.5" stroke="#999" stroke-width="0.6"/>
<text x="438.95" y="452.40" font-size="7.0" text-anchor="end" fill="#636363" stroke="#636363">40</text>
<line x1="439.65" x2="441.25" y1="521.5" y2="521.5" stroke="#999" stroke-width="0.6"/>
<text x="438.95" y="524.40" font-size="7.0" text-anchor="end" fill="#636363" stroke="#636363">20</text>
<line x1="439.65" x2="441.25" y1="593.5" y2="593.5" stroke="#999" stroke-width="0.6"/>
<text x="438.95" y="596.40" font-size="7.0" text-anchor="end" fill="#636363" stroke="#636363">0</text>
<line x1="455.77" x2="455.77" y1="594" y2="595.6" stroke="#999" stroke-width="0.6"/>
<text transform="translate(454.67,596.0) rotate(90)" font-size="6.4" fill="#636363" stroke="#636363">High</text>
<line x1="479.98" x2="479.98" y1="594" y2="595.6" stroke="#999" stroke-width="0.6"/>
<text transform="translate(478.88,596.0) rotate(90)" font-size="6.4" fill="#636363" stroke="#636363">Low</text>
<text transform="translate(298.7,471.5) rotate(-90)" font-size="8.4" text-anchor="middle" fill="#1a1a1a" stroke="#1a1a1a" textLength="54.2" lengthAdjust="spacingAndGlyphs">Alpha Diversity</text>
<text x="501.2" y="467.05" font-size="4.3" fill="#1a1a1a" stroke="#1a1a1a" style="stroke-width:0.04px" textLength="43.8" lengthAdjust="spacingAndGlyphs">Indoxyl Glucuronide (nM)</text>
<rect x="501.20" y="471.3" width="6.6" height="3.70" fill="#f3a3a5"/>
<line x1="504.50" x2="504.50" y1="471.3" y2="475" stroke="#e31a1c" stroke-width="0.8"/>
<line x1="501.80" x2="507.20" y1="473.15" y2="473.15" stroke="#e31a1c" stroke-width="0.7" opacity="0.6"/>
<circle cx="504.50" cy="473.15" r="1.33" fill="#e31a1c"/>
<text x="510" y="474.20" font-size="4.3" fill="#1a1a1a" stroke="#1a1a1a" style="stroke-width:0.04px">High</text>
<rect x="501.20" y="477.5" width="6.6" height="4.00" fill="#a8b4d8"/>
<line x1="504.50" x2="504.50" y1="477.5" y2="481.5" stroke="#0b2f8c" stroke-width="0.8"/>
<line x1="501.80" x2="507.20" y1="479.50" y2="479.50" stroke="#0b2f8c" stroke-width="0.7" opacity="0.6"/>
<circle cx="504.50" cy="479.50" r="1.44" fill="#0b2f8c"/>
<text x="510" y="480.55" font-size="4.3" fill="#1a1a1a" stroke="#1a1a1a" style="stroke-width:0.04px">Low</text>
<text x="404.8" y="619.8" font-size="7.6" font-weight="normal" text-anchor="middle" fill="#222" stroke="#222">(D)</text>
</svg></body></html>
